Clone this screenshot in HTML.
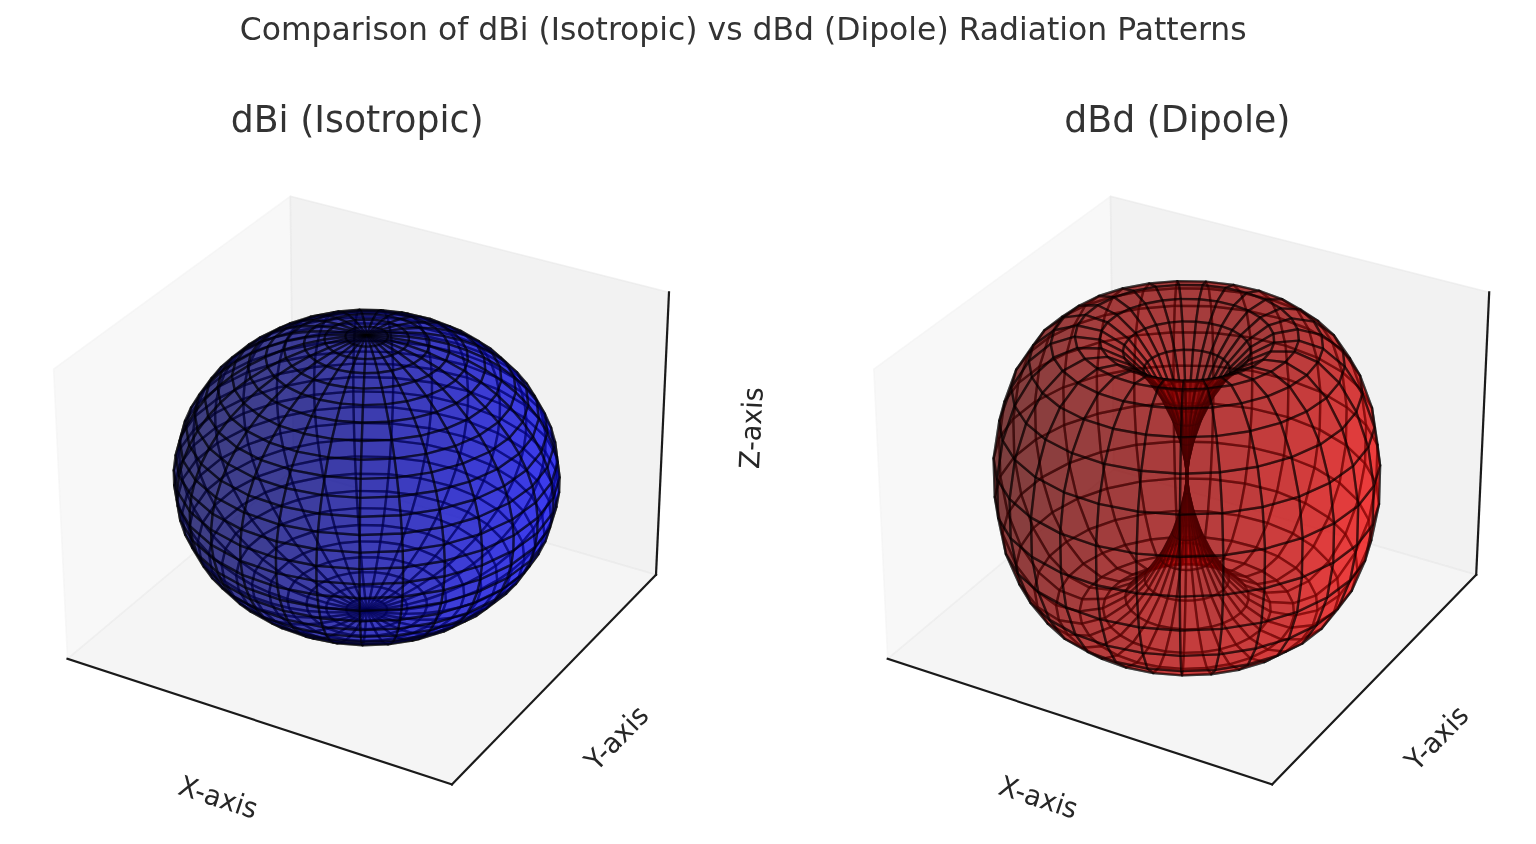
<!DOCTYPE html>
<html lang="en"><head><meta charset="utf-8"><title>Comparison of dBi (Isotropic) vs dBd (Dipole) Radiation Patterns</title>
<style>
html,body{margin:0;padding:0;background:#fff;overflow:hidden}
svg{display:block}
text{font-family:"DejaVu Sans","Liberation Sans",sans-serif;fill:#333333}
</style></head><body>
<svg width="1536" height="844" viewBox="0 0 1536 844">
<rect width="1536" height="844" fill="#fff"/>
<g fill-opacity=".5" stroke-opacity=".5" stroke-width="1.5" stroke-linejoin="round">
<polygon points="67.5,658.9 293.5,469.5 290.3,196.3 53.6,369.1" fill="#f2f2f2" stroke="#f2f2f2"/>
<polygon points="293.5,469.5 656.0,574.8 669.0,292.3 290.3,196.3" fill="#e6e6e6" stroke="#e6e6e6"/>
<polygon points="67.5,658.9 451.9,784.4 656.0,574.8 293.5,469.5" fill="#ececec" stroke="#ececec"/>
</g>
<g stroke="#1a1a1a" stroke-width="2.2" stroke-linecap="square" fill="none">
<path d="M67.5 658.9 L451.9 784.4"/>
<path d="M451.9 784.4 L656.0 574.8"/>
<path d="M656.0 574.8 L669.0 292.3"/>
</g>
<g fill-opacity=".5" stroke="#000" stroke-opacity=".5" stroke-width="2.4" stroke-linejoin="round">
<path fill="#0000c9" d="M391.2 440.1l-36.9-.7 .6 17 35.1 .7z"/>
<path fill="#0000ca" d="M390 457.1l-35.1-.7 .8 17.3 32.9 .6z"/>
<path fill="#0000c7" d="M392.1 423.5l-38.2-.7 .4 16.6 36.9 .7z"/>
<path fill="#0000b8" d="M354.3 439.4l-36.4 3.2 2.4 16.9 34.6-3.1z"/>
<path fill="#0000bb" d="M354.9 456.4l-34.6 3.1 3 17.1 32.4-2.9z"/>
<path fill="#0000b6" d="M353.9 422.8l-37.8 3.3 1.8 16.5 36.4-3.2z"/>
<path fill="#0000cb" d="M388.6 474.3l-32.9-.6 .8 17.2 30.4 .6z"/>
<path fill="#0000d8" d="M427.1 444.6l-35.9-4.5-1.2 17 34.1 4.3z"/>
<path fill="#0000c4" d="M392.8 407.4l-39.3-.7 .4 16.1 38.2 .7z"/>
<path fill="#0000d9" d="M424.1 461.4l-34.1-4.3-1.4 17.2 31.9 4.1z"/>
<path fill="#0000bd" d="M355.7 473.7l-32.4 2.9 3.4 17.1 29.8-2.8z"/>
<path fill="#0000d6" d="M429.4 428.2l-37.3-4.7-.9 16.6 35.9 4.5z"/>
<path fill="#0000b3" d="M353.5 406.7l-38.7 3.4 1.3 16 37.8-3.3z"/>
<path fill="#0000d9" d="M420.5 478.4l-31.9-4.1-1.7 17.2 29.4 3.8z"/>
<path fill="#0000cc" d="M386.9 491.5l-30.4-.6 1 17.2 27.4 .5z"/>
<path fill="#0000d5" d="M431 412.2l-38.2-4.8-.7 16.1 37.3 4.7z"/>
<path fill="#0000c2" d="M393.1 392.1l-39.8-.7 .2 15.3 39.3 .7z"/>
<path fill="#0000bf" d="M356.5 490.9l-29.8 2.8 3.8 16.9 27-2.5z"/>
<path fill="#0000a8" d="M317.9 442.6l-34.3 7.1 4.1 16.6 32.6-6.8z"/>
<path fill="#0000ab" d="M320.3 459.5l-32.6 6.8 5 16.7 30.6-6.4z"/>
<path fill="#0000d8" d="M416.3 495.3l-29.4-3.8-2 17.1 26.6 3.5z"/>
<path fill="#0000b0" d="M353.3 391.4l-39.2 3.4 .7 15.3 38.7-3.4z"/>
<path fill="#0000a4" d="M316.1 426.1l-35.7 7.3 3.2 16.3 34.3-7.1z"/>
<path fill="#0000af" d="M323.3 476.6l-30.6 6.4 5.8 16.6 28.2-5.9z"/>
<path fill="#0000d2" d="M431.9 396.9l-38.8-4.8-.3 15.3 38.2 4.8z"/>
<path fill="#0000cc" d="M384.9 508.6l-27.4-.5 1.1 16.9 24.2 .5z"/>
<path fill="#0000e5" d="M455.9 469.4l-31.8-8-3.6 17 29.7 7.5z"/>
<path fill="#0000e5" d="M460.5 452.9l-33.4-8.3-3 16.8 31.8 8z"/>
<path fill="#0000a1" d="M314.8 410.1l-36.6 7.4 2.2 15.9 35.7-7.3z"/>
<path fill="#0000c1" d="M357.5 508.1l-27 2.5 4.3 16.6 23.8-2.2z"/>
<path fill="#0000be" d="M393.2 377.7l-39.9-.7 0 14.4 39.8 .7z"/>
<path fill="#0000e5" d="M450.2 485.9l-29.7-7.5-4.2 16.9 27.4 7z"/>
<path fill="#0000b2" d="M326.7 493.7l-28.2 5.9 6.6 16.4 25.4-5.4z"/>
<path fill="#0000e4" d="M464.1 436.7l-34.7-8.5-2.3 16.4 33.4 8.3z"/>
<path fill="#0000d7" d="M411.5 512.1l-26.6-3.5-2.1 16.9 23.4 3.1z"/>
<path fill="#0000ad" d="M353.3 377l-39.3 3.4 .1 14.4 39.2-3.4z"/>
<path fill="#0000e3" d="M443.7 502.3l-27.4-7-4.8 16.8 24.7 6.4z"/>
<path fill="#0000e3" d="M466.5 420.9l-35.5-8.7-1.6 16 34.7 8.5z"/>
<path fill="#00009e" d="M314.1 394.8l-37.1 7.5 1.2 15.2 36.6-7.4z"/>
<path fill="#0000cf" d="M432 382.5l-38.8-4.8-.1 14.4 38.8 4.8z"/>
<path fill="#0000b5" d="M330.5 510.6l-25.4 5.4 7.3 16 22.4-4.8z"/>
<path fill="#0000cc" d="M382.8 525.5l-24.2-.5 1.2 16.4 20.6 .4z"/>
<path fill="#0000c2" d="M358.6 525l-23.8 2.2 4.7 16.1 20.3-1.9z"/>
<path fill="#00009c" d="M287.7 466.3l-29.4 10.1 6.9 16.1 27.5-9.5z"/>
<path fill="#000098" d="M283.6 449.7l-30.9 10.6 5.6 16.1 29.4-10.1z"/>
<path fill="#0000bb" d="M393 364.3l-39.6-.7-.1 13.4 39.9 .7z"/>
<path fill="#0000e1" d="M436.2 518.5l-24.7-6.4-5.3 16.5 21.8 5.6z"/>
<path fill="#0000a1" d="M292.7 483l-27.5 9.5 8 16 25.3-8.9z"/>
<path fill="#0000d6" d="M406.2 528.6l-23.4-3.1-2.4 16.3 20.1 2.7z"/>
<path fill="#0000e1" d="M467.9 405.7l-36-8.8-.9 15.3 35.5 8.7z"/>
<path fill="#000094" d="M280.4 433.4l-32.1 10.9 4.4 16 30.9-10.6z"/>
<path fill="#0000a9" d="M353.4 363.6l-38.9 3.4-.5 13.4 39.3-3.4z"/>
<path fill="#00009a" d="M314 380.4l-37.2 7.4 .2 14.5 37.1-7.5z"/>
<path fill="#0000a5" d="M298.5 499.6l-25.3 8.9 9.1 15.6 22.8-8.1z"/>
<path fill="#0000b8" d="M334.8 527.2l-22.4 4.8 7.9 15.4 19.2-4.1z"/>
<path fill="#0000cc" d="M431.4 369l-38.4-4.7 .2 13.4 38.8 4.8z"/>
<path fill="#0000f0" d="M483.8 480.6l-27.9-11.2-5.7 16.5 26.2 10.6z"/>
<path fill="#0000ee" d="M476.4 496.5l-26.2-10.6-6.5 16.4 24 9.8z"/>
<path fill="#0000f0" d="M489.9 464.6l-29.4-11.7-4.6 16.5 27.9 11.2z"/>
<path fill="#000090" d="M278.2 417.5l-32.9 11.1 3 15.7 32.1-10.9z"/>
<path fill="#0000de" d="M428 534.2l-21.8-5.6-5.7 15.9 18.5 4.8z"/>
<path fill="#0000aa" d="M305.1 516l-22.8 8.1 10 15.1 20.1-7.2z"/>
<path fill="#0000de" d="M468.1 391.2l-36.1-8.7-.1 14.4 36 8.8z"/>
<path fill="#0000cc" d="M380.4 541.8l-20.6-.4 1.3 15.8 16.8 .3z"/>
<path fill="#0000ec" d="M467.7 512.1l-24-9.8-7.5 16.2 21.7 8.9z"/>
<path fill="#0000f0" d="M494.6 448.8l-30.5-12.1-3.6 16.2 29.4 11.7z"/>
<path fill="#0000c3" d="M359.8 541.4l-20.3 1.9 5 15.4 16.6-1.5z"/>
<path fill="#0000d3" d="M400.5 544.5l-20.1-2.7-2.5 15.7 16.4 2.2z"/>
<path fill="#0000b8" d="M392.4 352.1l-38.7-.7-.3 12.2 39.6 .7z"/>
<path fill="#000097" d="M314.5 367l-36.9 7.2-.8 13.6 37.2-7.4z"/>
<path fill="#0000e9" d="M457.9 527.4l-21.7-8.9-8.2 15.7 19.1 7.9z"/>
<path fill="#00008c" d="M277 402.3l-33.4 11.1 1.7 15.2 32.9-11.1z"/>
<path fill="#0000a6" d="M353.7 351.4l-38.2 3.3-1 12.3 38.9-3.4z"/>
<path fill="#0000ef" d="M497.9 433.2l-31.4-12.3-2.4 15.8 30.5 12.1z"/>
<path fill="#0000ae" d="M312.4 532l-20.1 7.2 10.9 14.4 17.1-6.2z"/>
<path fill="#0000bb" d="M339.5 543.3l-19.2 4.1 8.5 14.7 15.7-3.4z"/>
<path fill="#0000c8" d="M430.1 356.7l-37.7-4.6 .6 12.2 38.4 4.7z"/>
<path fill="#0000da" d="M419 549.3l-18.5-4.8-6.2 15.2 15.1 4z"/>
<path fill="#0000da" d="M467.2 377.6l-35.8-8.6 .6 13.5 36.1 8.7z"/>
<path fill="#0000e5" d="M447.1 542.1l-19.1-7.9-9 15.1 16.3 6.8z"/>
<path fill="#000094" d="M265.2 492.5l-23.1 12.5 9.9 15 21.2-11.5z"/>
<path fill="#00008e" d="M258.3 476.4l-24.7 13.2 8.5 15.4 23.1-12.5z"/>
<path fill="#0000ed" d="M499.7 418l-31.8-12.3-1.4 15.2 31.4 12.3z"/>
<path fill="#000099" d="M273.2 508.5l-21.2 11.5 11.2 14.5 19.1-10.4z"/>
<path fill="#000089" d="M276.8 387.8l-33.4 11.1 .2 14.5 33.4-11.1z"/>
<path fill="#0000cb" d="M377.9 557.5l-16.8-.3 1.3 14.9 12.9 .3z"/>
<path fill="#000089" d="M252.7 460.3l-26 13.7 6.9 15.6 24.7-13.2z"/>
<path fill="#0000c4" d="M361.1 557.2l-16.6 1.5 5.2 14.6 12.7-1.2z"/>
<path fill="#0000b2" d="M320.3 547.4l-17.1 6.2 11.7 13.6 13.9-5.1z"/>
<path fill="#0000d1" d="M394.3 559.7l-16.4-2.2-2.6 14.9 12.5 1.6z"/>
<path fill="#00009f" d="M282.3 524.1l-19.1 10.4 12.3 14 16.8-9.3z"/>
<path fill="#000094" d="M315.5 354.7l-36 7.1-1.9 12.4 36.9-7.2z"/>
<path fill="#0000b4" d="M391.6 341.2l-37.5-.6-.4 10.8 38.7 .7z"/>
<path fill="#000084" d="M248.3 444.3l-27 14.1 5.4 15.6 26-13.7z"/>
<path fill="#0000bd" d="M344.5 558.7l-15.7 3.4 9 13.8 11.9-2.6z"/>
<path fill="#0000e0" d="M435.3 556.1l-16.3-6.8-9.6 14.4 13.3 5.6z"/>
<path fill="#0000f5" d="M497.8 509.7l-21.4-13.2-8.7 15.6 19.7 12.3z"/>
<path fill="#0000a3" d="M354.1 340.6l-36.9 3.1-1.7 11 38.2-3.3z"/>
<path fill="#0000f2" d="M487.4 524.4l-19.7-12.3-9.8 15.3 17.7 11.2z"/>
<path fill="#0000f7" d="M506.7 494.6l-22.9-14-7.4 15.9 21.4 13.2z"/>
<path fill="#0000a5" d="M292.3 539.2l-16.8 9.3 13.5 13.1 14.2-8z"/>
<path fill="#0000d6" d="M409.4 563.7l-15.1-4-6.5 14.3 11.5 3.1z"/>
<path fill="#0000ea" d="M500 403.5l-31.9-12.3-.2 14.5 31.8 12.3z"/>
<path fill="#0000d6" d="M465.1 365l-35-8.3 1.3 12.3 35.8 8.6z"/>
<path fill="#0000c4" d="M428 345.6l-36.4-4.4 .8 10.9 37.7 4.6z"/>
<path fill="#0000ef" d="M475.6 538.6l-17.7-11.2-10.8 14.7 15.5 9.9z"/>
<path fill="#0000f8" d="M514.1 479.3l-24.2-14.7-6.1 16 22.9 14z"/>
<path fill="#000080" d="M245.3 428.6l-27.8 14.4 3.8 15.4 27-14.1z"/>
<path fill="#000086" d="M277.6 374.2l-33.1 11-1.1 13.7 33.4-11.1z"/>
<path fill="#0000b7" d="M328.8 562.1l-13.9 5.1 12.3 12.6 10.6-3.9z"/>
<path fill="#0000ea" d="M462.6 552l-15.5-9.9-11.8 14 13.2 8.5z"/>
<path fill="#0000f8" d="M519.8 463.9l-25.2-15.1-4.7 15.8 24.2 14.7z"/>
<path fill="#0000ab" d="M303.2 553.6l-14.2 8 14.3 12.1 11.6-6.5z"/>
<path fill="#0000db" d="M422.7 569.3l-13.3-5.6-10.1 13.4 10.1 4.3z"/>
<path fill="#0000c9" d="M375.3 572.4l-12.9-.3 1.4 14 8.7 .2z"/>
<path fill="#0000c4" d="M362.4 572.1l-12.7 1.2 5.6 13.6 8.5-.8z"/>
<path fill="#00007c" d="M243.6 413.4l-28.1 14.5 2 15.1 27.8-14.4z"/>
<path fill="#000092" d="M317.2 343.7l-34.9 6.8-2.8 11.3 36-7.1z"/>
<path fill="#0000ce" d="M387.8 574l-12.5-1.6-2.8 13.9 8.4 1.1z"/>
<path fill="#0000e6" d="M498.8 389.7l-31.6-12.1 .9 13.6 31.9 12.3z"/>
<path fill="#0000e4" d="M448.5 564.6l-13.2-8.5-12.6 13.2 10.7 6.9z"/>
<path fill="#0000bf" d="M349.7 573.3l-11.9 2.6 9.4 12.8 8.1-1.8z"/>
<path fill="#0000f8" d="M523.7 448.6l-25.8-15.4-3.3 15.6 25.2 15.1z"/>
<path fill="#0000b0" d="M390.5 331.8l-35.8-.6-.6 9.4 37.5 .6z"/>
<path fill="#0000d2" d="M399.3 577.1l-11.5-3.1-6.9 13.4 7.8 2.1z"/>
<path fill="#000083" d="M279.5 361.8l-32.5 10.6-2.5 12.8 33.1-11z"/>
<path fill="#0000b1" d="M314.9 567.2l-11.6 6.5 15.1 11.1 8.8-5z"/>
<path fill="#0000a0" d="M354.7 331.2l-35.3 2.9-2.2 9.6 36.9-3.1z"/>
<path fill="#0000d2" d="M461.9 353.6l-33.9-8 2.1 11.1 35 8.3z"/>
<path fill="#00008f" d="M252 520l-16.2 13.7 12.8 13.2 14.6-12.4z"/>
<path fill="#000096" d="M263.2 534.5l-14.6 12.4 14.2 12.5 12.7-10.9z"/>
<path fill="#000088" d="M242.1 505l-17.6 14.7 11.3 14 16.2-13.7z"/>
<path fill="#0000bb" d="M337.8 575.9l-10.6 3.9 12.9 11.5 7.1-2.6z"/>
<path fill="#0000bf" d="M425.3 336l-34.8-4.2 1.1 9.4 36.4 4.4z"/>
<path fill="#00009d" d="M275.5 548.5l-12.7 10.9 15.4 11.6 10.8-9.4z"/>
<path fill="#000082" d="M233.6 489.6l-18.9 15.6 9.8 14.5 17.6-14.7z"/>
<path fill="#000078" d="M243.4 398.9l-28.3 14.4 .4 14.6 28.1-14.5z"/>
<path fill="#0000de" d="M433.4 576.2l-10.7-6.9-13.3 12.1 8.1 5.3z"/>
<path fill="#0000d5" d="M409.4 581.4l-10.1-4.3-10.6 12.4 6.8 2.9z"/>
<path fill="#0000f6" d="M525.9 433.5l-26.2-15.5-1.8 15.2 25.8 15.4z"/>
<path fill="#0000a4" d="M289 561.6l-10.8 9.4 16.4 10.4 8.7-7.7z"/>
<path fill="#00007c" d="M226.7 474l-20 16.3 8 14.9 18.9-15.6z"/>
<path fill="#0000e2" d="M496.1 376.8l-31-11.8 2.1 12.6 31.6 12.1z"/>
<path fill="#0000f2" d="M488.5 551.5l-12.9-12.9-13 13.4 11.2 11.5z"/>
<path fill="#0000f6" d="M501.7 538.7l-14.3-14.3-11.8 14.2 12.9 12.9z"/>
<path fill="#0000b6" d="M327.2 579.8l-8.8 5 15.7 9.9 6-3.4z"/>
<path fill="#0000ed" d="M473.8 563.5l-11.2-11.5-14.1 12.6 9.5 9.8z"/>
<path fill="#00008f" d="M319.4 334.1l-33.3 6.5-3.8 9.9 34.9-6.8z"/>
<path fill="#0000fa" d="M513.4 525.1l-15.6-15.4-10.4 14.7 14.3 14.3z"/>
<path fill="#0000c7" d="M372.5 586.3l-8.7-.2 1.5 12.8 4.4 .1z"/>
<path fill="#0000c4" d="M363.8 586.1l-8.5 .8 5.6 12.4 4.4-.4z"/>
<path fill="#0000ab" d="M303.3 573.7l-8.7 7.7 17.2 9.3 6.6-5.9z"/>
<path fill="#0000ca" d="M380.9 587.4l-8.4-1.1-2.8 12.7 4.2 .6z"/>
<path fill="#000077" d="M221.3 458.4l-20.8 16.9 6.2 15 20-16.3z"/>
<path fill="#0000e7" d="M458 574.4l-9.5-9.8-15.1 11.6 7.7 8.1z"/>
<path fill="#0000d7" d="M417.5 586.7l-8.1-5.3-13.9 11 5.5 3.6z"/>
<path fill="#000081" d="M282.3 350.5l-31.4 10.3-3.9 11.6 32.5-10.6z"/>
<path fill="#0000c1" d="M355.3 586.9l-8.1 1.8 9.7 11.5 4-.9z"/>
<path fill="#0000fc" d="M523.5 511l-16.8-16.4-8.9 15.1 15.6 15.4z"/>
<path fill="#000075" d="M244.5 385.2l-28 14.2-1.4 13.9 28.3-14.4z"/>
<path fill="#0000f3" d="M526.3 418.9l-26.3-15.4-.3 14.5 26.2 15.5z"/>
<path fill="#0000cc" d="M388.7 589.5l-7.8-2.1-7 12.2 3.9 1z"/>
<path fill="#0000ac" d="M389.1 323.9l-33.7-.6-.7 7.9 35.8 .6z"/>
<path fill="#0000cc" d="M457.6 343.6l-32.3-7.6 2.7 9.6 33.9 8z"/>
<path fill="#0000e0" d="M441.1 584.3l-7.7-8.1-15.9 10.5 5.8 6.2z"/>
<path fill="#0000be" d="M347.2 588.7l-7.1 2.6 13.2 10.3 3.6-1.4z"/>
<path fill="#00009c" d="M355.4 323.3l-33.2 2.8-2.8 8 35.3-2.9z"/>
<path fill="#0000ce" d="M395.5 592.4l-6.8-2.9-10.9 11.1 3.4 1.5z"/>
<path fill="#0000fd" d="M531.8 496.4l-17.7-17.1-7.4 15.3 16.8 16.4z"/>
<path fill="#0000b2" d="M318.4 584.8l-6.6 5.9 17.9 8 4.4-4z"/>
<path fill="#000072" d="M217.5 443l-21.3 17.2 4.3 15.1 20.8-16.9z"/>
<path fill="#0000ba" d="M421.8 327.8l-32.7-3.9 1.4 7.9 34.8 4.2z"/>
<path fill="#0000bc" d="M340.1 591.3l-6 3.4 16.2 8.6 3-1.7z"/>
<path fill="#0000dd" d="M491.8 365l-29.9-11.4 3.2 11.4 31 11.8z"/>
<path fill="#0000d9" d="M423.3 592.9l-5.8-6.2-16.5 9.3 3.9 4.2z"/>
<path fill="#0000d0" d="M401 596l-5.5-3.6-14.3 9.7 2.8 1.8z"/>
<path fill="#000096" d="M262.8 559.4l-8 12.2 16.6 9.8 6.8-10.4z"/>
<path fill="#0000fe" d="M538.2 481.5l-18.4-17.6-5.7 15.4 17.7 17.1z"/>
<path fill="#00009f" d="M278.2 571l-6.8 10.4 17.7 8.6 5.5-8.6z"/>
<path fill="#0000ef" d="M524.8 404.9l-26-15.2 1.2 13.8 26.3 15.4z"/>
<path fill="#00008e" d="M248.6 546.9l-9.2 13.9 15.4 10.8 8-12.2z"/>
<path fill="#000073" d="M247 372.4l-27.4 13.8-3.1 13.2 28-14.2z"/>
<path fill="#0000a7" d="M294.6 581.4l-5.5 8.6 18.6 7.2 4.1-6.5z"/>
<path fill="#0000b9" d="M334.1 594.7l-4.4 4 18.4 6.6 2.2-2z"/>
<path fill="#00006e" d="M215.5 427.9l-21.7 17.3 2.4 15 21.3-17.2z"/>
<path fill="#000087" d="M235.8 533.7l-10.3 15.2 13.9 11.9 9.2-13.9z"/>
<path fill="#00008d" d="M322.2 326.1l-31.3 6.1-4.8 8.4 33.3-6.5z"/>
<path fill="#0000d1" d="M404.9 600.2l-3.9-4.2-17 7.9 1.9 2.1z"/>
<path fill="#00007f" d="M286.1 340.6l-29.9 9.7-5.3 10.5 31.4-10.3z"/>
<path fill="#0000af" d="M311.8 590.7l-4.1 6.5 19.3 5.9 2.7-4.4z"/>
<path fill="#0000c5" d="M369.7 599l-4.4-.1 1.4 11.5z"/>
<path fill="#0000e8" d="M463.3 585.1l-5.3-10.7-16.9 9.9 4.3 8.7z"/>
<path fill="#0000c4" d="M365.3 598.9l-4.4 .4 5.8 11.1z"/>
<path fill="#00007f" d="M224.5 519.7l-11.3 16.4 12.3 12.8 10.3-15.2z"/>
<path fill="#0000e1" d="M445.4 593l-4.3-8.7-17.8 8.6 3.2 6.6z"/>
<path fill="#0000c6" d="M373.9 599.6l-4.2-.6-3 11.4z"/>
<path fill="#0000fd" d="M542.7 466.5l-19-17.9-3.9 15.3 18.4 17.6z"/>
<path fill="#0000c3" d="M360.9 599.3l-4 .9 9.8 10.2z"/>
<path fill="#0000ee" d="M480.2 576l-6.4-12.5-15.8 10.9 5.3 10.7z"/>
<path fill="#0000c7" d="M377.8 600.6l-3.9-1-7.2 10.8z"/>
<path fill="#0000d9" d="M426.5 599.5l-3.2-6.6-18.4 7.3 2.1 4.5z"/>
<path fill="#0000c2" d="M356.9 600.2l-3.6 1.4 13.4 8.8z"/>
<path fill="#0000b8" d="M329.7 598.7l-2.7 4.4 19.7 4.4 1.4-2.2z"/>
<path fill="#0000c7" d="M381.2 602.1l-3.4-1.5-11.1 9.8z"/>
<path fill="#0000c7" d="M452.2 335l-30.4-7.2 3.5 8.2 32.3 7.6z"/>
<path fill="#0000f3" d="M495.8 565.7l-7.3-14.2-14.7 12 6.4 12.5z"/>
<path fill="#0000c1" d="M353.3 601.6l-3 1.7 16.4 7.1z"/>
<path fill="#0000c8" d="M384 603.9l-2.8-1.8-14.5 8.3z"/>
<path fill="#0000d1" d="M407 604.7l-2.1-4.5-19 5.8 1.1 2.3z"/>
<path fill="#0000a8" d="M387.4 317.7l-31.2-.5-.8 6.1 33.7 .6z"/>
<path fill="#000078" d="M214.7 505.2l-12.1 17.5 10.6 13.4 11.3-16.4z"/>
<path fill="#0000c0" d="M350.3 603.3l-2.2 2 18.6 5.1z"/>
<path fill="#0000eb" d="M521.5 391.6l-25.4-14.8 2.7 12.9 26 15.2z"/>
<path fill="#0000d7" d="M486.1 354.3l-28.5-10.7 4.3 10 29.9 11.4z"/>
<path fill="#0000c8" d="M385.9 606l-1.9-2.1-17.3 6.5z"/>
<path fill="#00006a" d="M215.1 413.3l-21.7 17.2 .4 14.7 21.7-17.3z"/>
<path fill="#0000f7" d="M510 554.3l-8.3-15.6-13.2 12.8 7.3 14.2z"/>
<path fill="#000099" d="M356.2 317.2l-30.6 2.6-3.4 6.3 33.2-2.8z"/>
<path fill="#0000c0" d="M348.1 605.3l-1.4 2.2 20 2.9z"/>
<path fill="#0000c8" d="M387 608.3l-1.1-2.3-19.2 4.4z"/>
<path fill="#000071" d="M250.9 360.8l-26.4 13.3-4.9 12.1 27.4-13.8z"/>
<path fill="#0000b6" d="M327 603.1l-.9 4.6 20.2 2.2 .4-2.4z"/>
<path fill="#0000ad" d="M307.7 597.2l-1.3 6.9 19.7 3.6 .9-4.6z"/>
<path fill="#0000fb" d="M545.2 451.6l-19.3-18.1-2.2 15.1 19 17.9z"/>
<path fill="#0000bf" d="M346.7 607.5l-.4 2.4 20.4 .5z"/>
<path fill="#0000b5" d="M417.7 321.3l-30.3-3.6 1.7 6.2 32.7 3.9z"/>
<path fill="#0000c8" d="M387.1 610.7l-.1-2.4-20.3 2.1z"/>
<path fill="#0000a4" d="M289.1 590l-1.8 9 19.1 5.1 1.3-6.9z"/>
<path fill="#000072" d="M206.7 490.3l-12.8 18.3 8.7 14.1 12.1-17.5z"/>
<path fill="#0000d0" d="M407.2 609.3l-.2-4.6-20 3.6 .1 2.4z"/>
<path fill="#0000fb" d="M522.5 542l-9.1-16.9-11.7 13.6 8.3 15.6z"/>
<path fill="#0000bf" d="M346.3 609.9l.6 2.3 19.8-1.8z"/>
<path fill="#0000c8" d="M386.2 613l.9-2.3-20.4-.3z"/>
<path fill="#0000d8" d="M426.9 606.5l-.4-7-19.5 5.2 .2 4.6z"/>
<path fill="#00009b" d="M271.4 581.4l-2.3 11.1 18.2 6.5 1.8-9z"/>
<path fill="#0000bf" d="M346.9 612.2l1.4 2.2 18.4-4z"/>
<path fill="#0000c7" d="M384.5 615.1l1.7-2.1-19.5-2.6z"/>
<path fill="#00007e" d="M290.9 332.2l-28.1 9.1-6.6 9 29.9-9.7z"/>
<path fill="#0000b6" d="M326.1 607.7l1.1 4.7 19.7-.2-.6-2.3z"/>
<path fill="#0000e0" d="M446 602.1l-.6-9.1-18.9 6.5 .4 7z"/>
<path fill="#0000bf" d="M348.3 614.4l2.4 2 16-6z"/>
<path fill="#000092" d="M254.8 571.6l-2.9 13 17.2 7.9 2.3-11.1z"/>
<path fill="#000067" d="M216.5 399.4l-21.5 16.9-1.6 14.2 21.7-17.2z"/>
<path fill="#00008b" d="M325.6 319.8l-29 5.6-5.7 6.8 31.3-6.1z"/>
<path fill="#0000c6" d="M381.9 617l2.6-1.9-17.8-4.7z"/>
<path fill="#0000fd" d="M533.3 528.9l-9.8-17.9-10.1 14.1 9.1 16.9z"/>
<path fill="#0000cf" d="M405.6 613.9l1.6-4.6-20.1 1.4-.9 2.3z"/>
<path fill="#00006c" d="M200.5 475.3l-13.4 18.8 6.8 14.5 12.8-18.3z"/>
<path fill="#0000bf" d="M350.7 616.4l3.1 1.7 12.9-7.7z"/>
<path fill="#0000c5" d="M378.6 618.6l3.3-1.6-15.2-6.6z"/>
<path fill="#0000f8" d="M545.6 436.9l-19.3-18-.4 14.6 19.3 18.1z"/>
<path fill="#0000e6" d="M516.4 379.2l-24.6-14.2 4.3 11.8 25.4 14.8z"/>
<path fill="#0000c0" d="M353.8 618.1l3.7 1.3 9.2-9z"/>
<path fill="#0000e6" d="M464.2 596.2l-.9-11.1-17.9 7.9 .6 9.1z"/>
<path fill="#0000c5" d="M374.7 619.7l3.9-1.1-11.9-8.2z"/>
<path fill="#0000ac" d="M306.4 604.1l1.4 6.9 19.4 1.4-1.1-4.7z"/>
<path fill="#0000c1" d="M357.5 619.4l4.1 .8 5.1-9.8z"/>
<path fill="#0000c4" d="M370.4 620.4l4.3-.7-8-9.3z"/>
<path fill="#0000c2" d="M361.6 620.2l4.4 .4 .7-10.2z"/>
<path fill="#0000c3" d="M366 620.6l4.4-.2-3.7-10z"/>
<path fill="#000089" d="M239.4 560.8l-3.3 14.6 15.8 9.2 2.9-13z"/>
<path fill="#0000c1" d="M445.8 327.9l-28.1-6.6 4.1 6.5 30.4 7.2z"/>
<path fill="#0000b5" d="M327.2 612.4l2.8 4.4 18.3-2.4-1.4-2.2z"/>
<path fill="#0000d1" d="M479 345l-26.8-10 5.4 8.6 28.5 10.7z"/>
<path fill="#000070" d="M256.2 350.3l-25.2 12.7-6.5 11.1 26.4-13.3z"/>
<path fill="#0000ff" d="M542.2 515.1l-10.4-18.7-8.3 14.6 9.8 17.9z"/>
<path fill="#0000d7" d="M424.5 613.3l2.4-6.8-19.7 2.8-1.6 4.6z"/>
<path fill="#0000ce" d="M402.1 618.2l3.5-4.3-19.4-.9-1.7 2.1z"/>
<path fill="#0000ec" d="M481.3 589l-1.1-13-16.9 9.1 .9 11.1z"/>
<path fill="#000067" d="M196.2 460.2l-13.8 19.2 4.7 14.7 13.4-18.8z"/>
<path fill="#0000a2" d="M287.3 599l1.8 9 18.7 3-1.4-6.9z"/>
<path fill="#0000a3" d="M385.5 313.3l-28.3-.5-1 4.4 31.2 .5z"/>
<path fill="#000081" d="M225.5 548.9l-3.8 16.1 14.4 10.4 3.3-14.6z"/>
<path fill="#000065" d="M219.6 386.2l-21 16.5-3.6 13.6 21.5-16.9z"/>
<path fill="#000096" d="M357.2 312.8l-27.8 2.4-3.8 4.6 30.6-2.6z"/>
<path fill="#0000b6" d="M330 616.8l4.7 4 16-4.4-2.4-2z"/>
<path fill="#0000f5" d="M543.9 422.5l-19.1-17.6 1.5 14 19.3 18z"/>
<path fill="#0000cc" d="M396.9 622l5.2-3.8-17.6-3.1-2.6 1.9z"/>
<path fill="#0000f1" d="M497.2 580.4l-1.4-14.7-15.6 10.3 1.1 13z"/>
<path fill="#0000b0" d="M412.9 316.6l-27.4-3.3 1.9 4.4 30.3 3.6z"/>
<path fill="#0000ff" d="M549.1 500.9l-10.9-19.4-6.4 14.9 10.4 18.7z"/>
<path fill="#0000dd" d="M442.9 611l3.1-8.9-19.1 4.4-2.4 6.8z"/>
<path fill="#0000ac" d="M307.8 611l4.3 6.6 17.9-.8-2.8-4.4z"/>
<path fill="#000099" d="M269.1 592.5l2.2 11 17.8 4.5-1.8-9z"/>
<path fill="#00007d" d="M296.6 325.4l-26 8.4-7.8 7.5 28.1-9.1z"/>
<path fill="#000079" d="M213.2 536.1l-4.3 17.5 12.8 11.4 3.8-16.1z"/>
<path fill="#0000e0" d="M509.5 367.8l-23.4-13.5 5.7 10.7 24.6 14.2z"/>
<path fill="#0000b7" d="M334.7 620.8l6.1 3.3 13-6-3.1-1.7z"/>
<path fill="#000062" d="M193.8 445.2l-14 19.4 2.6 14.8 13.8-19.2z"/>
<path fill="#0000d4" d="M419.4 619.7l5.1-6.4-18.9 .6-3.5 4.3z"/>
<path fill="#0000c9" d="M390.3 625.1l6.6-3.1-15-5-3.3 1.6z"/>
<path fill="#000089" d="M329.4 315.2l-26.2 5-6.6 5.2 29-5.6z"/>
<path fill="#0000f6" d="M511.6 570.6l-1.6-16.3-14.2 11.4 1.4 14.7z"/>
<path fill="#0000b9" d="M340.8 624.1l7.4 2.6 9.3-7.3-3.7-1.3z"/>
<path fill="#000070" d="M262.8 341.3l-23.7 11.8-8.1 9.9 25.2-12.7z"/>
<path fill="#0000c6" d="M382.6 627.4l7.7-2.3-11.7-6.5-3.9 1.1z"/>
<path fill="#0000e3" d="M460.5 607.2l3.7-11-18.2 5.9-3.1 8.9z"/>
<path fill="#0000fe" d="M553.9 486.2l-11.2-19.7-4.5 15 10.9 19.4z"/>
<path fill="#0000ca" d="M470.5 337.2l-24.7-9.3 6.4 7.1 26.8 10z"/>
<path fill="#00008f" d="M251.9 584.6l2.5 13 16.9 5.9-2.2-11z"/>
<path fill="#000071" d="M202.6 522.7l-4.7 18.5 11 12.4 4.3-17.5z"/>
<path fill="#0000f0" d="M540.2 408.8l-18.7-17.2 3.3 13.3 19.1 17.6z"/>
<path fill="#000064" d="M224.5 374.1l-20.3 15.8-5.6 12.8 21-16.5z"/>
<path fill="#0000bb" d="M348.2 626.7l8.3 1.7 5.1-8.2-4.1-.8z"/>
<path fill="#0000a2" d="M289.1 608l5.6 8.7 17.4 .9-4.3-6.6z"/>
<path fill="#0000ba" d="M438.4 322.5l-25.5-5.9 4.8 4.7 28.1 6.6z"/>
<path fill="#0000ad" d="M312.1 617.6l6.9 5.9 15.7-2.7-4.7-4z"/>
<path fill="#0000c3" d="M374.1 628.8l8.5-1.4-7.9-7.7-4.3 .7z"/>
<path fill="#0000be" d="M356.5 628.4l8.8 .7 .7-8.5-4.4-.4z"/>
<path fill="#0000c1" d="M365.3 629.1l8.8-.3-3.7-8.4-4.4 .2z"/>
<path fill="#0000f9" d="M524.4 559.6l-1.9-17.6-12.5 12.3 1.6 16.3z"/>
<path fill="#00005f" d="M193.4 430.5l-14.1 19.3 .5 14.8 14-19.4z"/>
<path fill="#0000d1" d="M411.8 625.3l7.6-5.6-17.3-1.5-5.2 3.8z"/>
<path fill="#0000da" d="M436.2 619.5l6.7-8.5-18.4 2.3-5.1 6.4z"/>
<path fill="#0000e9" d="M477.1 601.9l4.2-12.9-17.1 7.2-3.7 11z"/>
<path fill="#0000d9" d="M500.9 357.7l-21.9-12.7 7.1 9.3 23.4 13.5z"/>
<path fill="#00009f" d="M383.3 310.7l-25-.4-1.1 2.5 28.3 .5z"/>
<path fill="#000086" d="M236.1 575.4l2.7 14.7 15.6 7.5-2.5-13z"/>
<path fill="#00006a" d="M193.9 508.6l-5 19.5 9 13.1 4.7-18.5z"/>
<path fill="#0000fd" d="M556.5 471.5l-11.3-19.9-2.5 14.9 11.2 19.7z"/>
<path fill="#000094" d="M358.3 310.3l-24.6 2.1-4.3 2.8 27.8-2.4z"/>
<path fill="#0000af" d="M319 623.5l9.1 5 12.7-4.4-6.1-3.3z"/>
<path fill="#00007c" d="M303.2 320.2l-23.5 7.6-9.1 6 26-8.4z"/>
<path fill="#000099" d="M271.3 603.5l6.7 10.7 16.7 2.5-5.6-8.7z"/>
<path fill="#0000aa" d="M407.6 313.6l-24.3-2.9 2.2 2.6 27.4 3.3z"/>
<path fill="#0000fb" d="M535.4 547.6l-2.1-18.7-10.8 13.1 1.9 17.6z"/>
<path fill="#0000eb" d="M534.4 395.7l-18-16.5 5.1 12.4 18.7 17.2z"/>
<path fill="#0000cc" d="M401.9 630l9.9-4.7-14.9-3.3-6.6 3.1z"/>
<path fill="#000063" d="M231 363l-19.3 15-7.5 11.9 20.3-15.8z"/>
<path fill="#00005c" d="M195 416.3l-13.9 19-1.8 14.5 14.1-19.3z"/>
<path fill="#000070" d="M270.6 333.8l-21.8 10.8-9.7 8.5 23.7-11.8z"/>
<path fill="#0000a3" d="M294.7 616.7l9 7.8 15.3-1-6.9-5.9z"/>
<path fill="#000064" d="M187.1 494.1l-5.3 20.1 7.1 13.9 5-19.5z"/>
<path fill="#00007d" d="M221.7 565l2.9 16.3 14.2 8.8-2.7-14.7z"/>
<path fill="#0000b2" d="M328.1 628.5l11 3.9 9.1-5.7-7.4-2.6z"/>
<path fill="#0000ed" d="M492.4 595l4.8-14.6-15.9 8.6-4.2 12.9z"/>
<path fill="#000088" d="M333.7 312.4l-23.2 4.4-7.3 3.4 26.2-5z"/>
<path fill="#0000c3" d="M460.7 330.9l-22.3-8.4 7.4 5.4 24.7 9.3z"/>
<path fill="#0000df" d="M452.3 617.6l8.2-10.4-17.6 3.8-6.7 8.5z"/>
<path fill="#0000fa" d="M556.9 456.7l-11.3-19.8-.4 14.7 11.3 19.9z"/>
<path fill="#0000c8" d="M390.4 633.4l11.5-3.4-11.6-4.9-7.7 2.3z"/>
<path fill="#0000d5" d="M426.2 626.9l10-7.4-16.8 .2-7.6 5.6z"/>
<path fill="#0000fc" d="M544.5 534.8l-2.3-19.7-8.9 13.8 2.1 18.7z"/>
<path fill="#0000b4" d="M430.1 318.9l-22.5-5.3 5.3 3 25.5 5.9z"/>
<path fill="#0000b5" d="M339.1 632.4l12.4 2.5 5-6.5-8.3-1.7z"/>
<path fill="#00008f" d="M254.4 597.6l7.9 12.4 15.7 4.2-6.7-10.7z"/>
<path fill="#0000c3" d="M377.8 635.4l12.6-2-7.8-6-8.5 1.4z"/>
<path fill="#0000d1" d="M490.7 348.8l-20.2-11.6 8.5 7.8 21.9 12.7z"/>
<path fill="#0000b9" d="M351.5 634.9l13.1 1 .7-6.8-8.8-.7z"/>
<path fill="#0000e4" d="M526.6 383.5l-17.1-15.7 6.9 11.4 18 16.5z"/>
<path fill="#0000be" d="M364.6 635.9l13.2-.5-3.7-6.6-8.8 .3z"/>
<path fill="#00005a" d="M198.6 402.7l-13.6 18.4-3.9 14.2 13.9-19z"/>
<path fill="#00005f" d="M182.4 479.4l-5.5 20.5 4.9 14.3 5.3-20.1z"/>
<path fill="#000075" d="M208.9 553.6l3.1 17.7 12.6 10-2.9-16.3z"/>
<path fill="#0000f1" d="M506.4 586.8l5.2-16.2-14.4 9.8-4.8 14.6z"/>
<path fill="#0000a6" d="M303.7 624.5l12 6.7 12.4-2.7-9.1-5z"/>
<path fill="#000063" d="M239.1 353.1l-18 14-9.4 10.9 19.3-15z"/>
<path fill="#0000f6" d="M555.1 442l-11.2-19.5 1.7 14.4 11.3 19.8z"/>
<path fill="#00009a" d="M278 614.2l11 9.6 14.7 .7-9-7.8z"/>
<path fill="#0000fd" d="M551.5 521.1l-2.4-20.2-6.9 14.2 2.3 19.7z"/>
<path fill="#0000e3" d="M467.5 614.1l9.6-12.2-16.6 5.3-8.2 10.4z"/>
<path fill="#0000cf" d="M413.2 633.1l13-6.2-14.4-1.6-9.9 4.7z"/>
<path fill="#00009b" d="M380.9 310.1l-21.4-.4-1.2 .6 25 .4z"/>
<path fill="#00007c" d="M310.5 316.8l-20.7 6.7-10.1 4.3 23.5-7.6z"/>
<path fill="#000070" d="M279.7 327.8l-19.8 9.8-11.1 7 21.8-10.8z"/>
<path fill="#000091" d="M359.5 309.7l-21 1.8-4.8 .9 24.6-2.1z"/>
<path fill="#0000a5" d="M401.7 312.5l-20.8-2.4 2.4 .6 24.3 2.9z"/>
<path fill="#000086" d="M238.8 590.1l8.8 14.2 14.7 5.7-7.9-12.4z"/>
<path fill="#0000d9" d="M440 626.8l12.3-9.2-16.1 1.9-10 7.4z"/>
<path fill="#00005a" d="M179.8 464.6l-5.6 20.6 2.7 14.7 5.5-20.5z"/>
<path fill="#00006d" d="M197.9 541.2l3.2 18.8 10.9 11.3-3.1-17.7z"/>
<path fill="#0000bc" d="M449.8 326.3l-19.7-7.4 8.3 3.6 22.3 8.4z"/>
<path fill="#000059" d="M204.2 389.9l-13.1 17.7-6.1 13.5 13.6-18.4z"/>
<path fill="#0000aa" d="M315.7 631.2l14.5 5.1 8.9-3.9-11-3.9z"/>
<path fill="#0000f4" d="M518.8 577.2l5.6-17.6-12.8 11-5.2 16.2z"/>
<path fill="#0000dd" d="M517 372.3l-16.1-14.6 8.6 10.1 17.1 15.7z"/>
<path fill="#0000f2" d="M551.1 427.7l-10.9-18.9 3.7 13.7 11.2 19.5z"/>
<path fill="#000087" d="M338.5 311.5l-19.9 3.8-8.1 1.5 23.2-4.4z"/>
<path fill="#0000ca" d="M479 341.4l-18.3-10.5 9.8 6.3 20.2 11.6z"/>
<path fill="#0000c9" d="M398 637.6l15.2-4.5-11.3-3.1-11.5 3.4z"/>
<path fill="#0000fc" d="M556.4 506.9l-2.5-20.7-4.8 14.7 2.4 20.2z"/>
<path fill="#000064" d="M248.8 344.6l-16.6 12.9-11.1 9.6 18-14z"/>
<path fill="#0000ad" d="M420.9 317l-19.2-4.5 5.9 1.1 22.5 5.3z"/>
<path fill="#0000e7" d="M481.6 608.9l10.8-13.9-15.3 6.9-9.6 12.2z"/>
<path fill="#000091" d="M262.3 610l12.8 11.4 13.9 2.4-11-9.6z"/>
<path fill="#0000af" d="M330.2 636.3l16.3 3.3 5-4.7-12.4-2.5z"/>
<path fill="#00009e" d="M289 623.8l14.8 8.2 11.9-.8-12-6.7z"/>
<path fill="#000057" d="M179.3 449.8l-5.5 20.5 .4 14.9 5.6-20.6z"/>
<path fill="#0000c2" d="M381.3 640.3l16.7-2.7-7.6-4.2-12.6 2z"/>
<path fill="#000066" d="M188.9 528.1l3.3 19.7 8.9 12.2-3.2-18.8z"/>
<path fill="#00007d" d="M224.6 581.3l9.7 15.8 13.3 7.2-8.8-14.2z"/>
<path fill="#0000b5" d="M346.5 639.6l17.4 1.4 .7-5.1-13.1-1z"/>
<path fill="#0000f6" d="M529.5 566.3l5.9-18.7-11 12-5.6 17.6z"/>
<path fill="#0000bb" d="M363.9 641l17.4-.7-3.5-4.9-13.2 .5z"/>
<path fill="#000059" d="M211.7 378l-12.4 16.7-8.2 12.9 13.1-17.7z"/>
<path fill="#000072" d="M289.8 323.5l-17.4 8.7-12.5 5.4 19.8-9.8z"/>
<path fill="#0000d2" d="M424.1 634.4l15.9-7.6-13.8 .1-13 6.2z"/>
<path fill="#0000fa" d="M559.1 492.3l-2.6-20.8-2.6 14.7 2.5 20.7z"/>
<path fill="#0000ec" d="M544.9 413.9l-10.5-18.2 5.8 13.1 10.9 18.9z"/>
<path fill="#00007d" d="M318.6 315.3l-17.7 5.7-11.1 2.5 20.7-6.7z"/>
<path fill="#0000dc" d="M453.1 624.9l14.4-10.8-15.2 3.5-12.3 9.2z"/>
<path fill="#0000d6" d="M505.5 362.3l-14.8-13.5 10.2 8.9 16.1 14.6z"/>
<path fill="#000097" d="M378.3 311.3l-17.5-.3-1.3-1.3 21.4 .4z"/>
<path fill="#00008f" d="M360.8 311l-17.2 1.5-5.1-1 21-1.8z"/>
<path fill="#0000b4" d="M437.8 323.3l-16.9-6.3 9.2 1.9 19.7 7.4z"/>
<path fill="#000054" d="M181.1 435.3l-5.5 20.1-1.8 14.9 5.5-20.5z"/>
<path fill="#0000c1" d="M465.9 335.5l-16.1-9.2 10.9 4.6 18.3 10.5z"/>
<path fill="#0000ea" d="M494.5 602.1l11.9-15.3-14 8.2-10.8 13.9z"/>
<path fill="#000066" d="M259.9 337.6l-15 11.7-12.7 8.2 16.6-12.9z"/>
<path fill="#000060" d="M181.8 514.2l3.4 20.4 7 13.2-3.3-19.7z"/>
<path fill="#00009f" d="M395.3 313.4l-17-2.1 2.6-1.2 20.8 2.4z"/>
<path fill="#0000a3" d="M303.8 632l17.9 6.4 8.5-2.1-14.5-5.1z"/>
<path fill="#000075" d="M212 571.3l10.5 17 11.8 8.8-9.7-15.8z"/>
<path fill="#0000f7" d="M538.4 554.3l6.1-19.5-9.1 12.8-5.9 18.7z"/>
<path fill="#000088" d="M247.6 604.3l14.7 12.9 12.8 4.2-12.8-11.4z"/>
<path fill="#0000f7" d="M559.6 477.4l-2.7-20.7-.4 14.8 2.6 20.8z"/>
<path fill="#00005a" d="M221.1 367.1l-11.6 15.7-10.2 11.9 12.4-16.7z"/>
<path fill="#0000ca" d="M405.4 640l18.7-5.6-10.9-1.3-15.2 4.5z"/>
<path fill="#000086" d="M343.6 312.5l-16.3 3.1-8.7-.3 19.9-3.8z"/>
<path fill="#0000e6" d="M536.6 400.7l-10-17.2 7.8 12.2 10.5 18.2z"/>
<path fill="#000095" d="M275.1 621.4l17.4 9.7 11.3 .9-14.8-8.2z"/>
<path fill="#0000a6" d="M411.1 317l-15.8-3.6 6.4-.9 19.2 4.5z"/>
<path fill="#0000ce" d="M492.3 353.5l-13.3-12.1 11.7 7.4 14.8 13.5z"/>
<path fill="#000052" d="M185 421.1l-5.3 19.6-4.1 14.7 5.5-20.1z"/>
<path fill="#0000a9" d="M321.7 638.4l20.1 4.1 4.7-2.9-16.3-3.3z"/>
<path fill="#000074" d="M300.9 321l-14.8 7.4-13.7 3.8 17.4-8.7z"/>
<path fill="#0000df" d="M465.2 621.2l16.4-12.3-14.1 5.2-14.4 10.8z"/>
<path fill="#00005b" d="M176.9 499.9l3.4 20.7 4.9 14-3.4-20.4z"/>
<path fill="#0000d3" d="M434.4 633.9l18.7-9-13.1 1.9-15.9 7.6z"/>
<path fill="#0000c1" d="M384.7 643.3l20.7-3.3-7.4-2.4-16.7 2.7z"/>
<path fill="#0000ec" d="M506 593.8l12.8-16.6-12.4 9.6-11.9 15.3z"/>
<path fill="#0000f4" d="M557.7 462.4l-2.6-20.4 1.8 14.7 2.7 20.7z"/>
<path fill="#0000f7" d="M545.3 541.4l6.2-20.3-7 13.7-6.1 19.5z"/>
<path fill="#00007e" d="M327.3 315.6l-14.4 4.7-12 .7 17.7-5.7z"/>
<path fill="#000068" d="M272.4 332.2l-13.2 10.2-14.3 6.9 15-11.7z"/>
<path fill="#0000b0" d="M341.8 642.5l21.4 1.6 .7-3.1-17.4-1.4z"/>
<path fill="#00006d" d="M201.1 560l11.2 18.2 10.2 10.1-10.5-17z"/>
<path fill="#0000b9" d="M363.2 644.1l21.5-.8-3.4-3-17.4 .7z"/>
<path fill="#0000df" d="M526.3 388.4l-9.3-16.1 9.6 11.2 10 17.2z"/>
<path fill="#0000b9" d="M451.5 331.2l-13.7-7.9 12 3 16.1 9.2z"/>
<path fill="#00005b" d="M232.2 357.5l-10.6 14.4-12.1 10.9 11.6-15.7z"/>
<path fill="#000080" d="M234.3 597.1l16.2 14.3 11.8 5.8-14.7-12.9z"/>
<path fill="#0000ac" d="M424.8 322.2l-13.7-5.2 9.8 0 16.9 6.3z"/>
<path fill="#000051" d="M191.1 407.6l-5.1 18.8-6.3 14.3 5.3-19.6z"/>
<path fill="#000056" d="M174.2 485.2l3.5 20.9 2.6 14.5-3.4-20.7z"/>
<path fill="#000093" d="M375.6 314.6l-13.4-.3-1.4-3.3 17.5 .3z"/>
<path fill="#00009b" d="M292.5 631.1l21.1 7.4 8.1-.1-17.9-6.4z"/>
<path fill="#00008d" d="M362.2 314.3l-13.2 1.1-5.4-2.9 17.2-1.5z"/>
<path fill="#0000c5" d="M477.5 346.2l-11.6-10.7 13.1 5.9 13.3 12.1z"/>
<path fill="#00009a" d="M388.6 316.1l-13-1.5 2.7-3.3 17 2.1z"/>
<path fill="#0000ef" d="M553.6 447.5l-2.5-19.8 4 14.3 2.6 20.4z"/>
<path fill="#00008d" d="M262.3 617.2l19.7 11 10.5 2.9-17.4-9.7z"/>
<path fill="#0000f6" d="M550 527.6l6.4-20.7-4.9 14.2-6.2 20.3z"/>
<path fill="#0000ca" d="M412.3 640.5l22.1-6.6-10.3 .5-18.7 5.6z"/>
<path fill="#0000ed" d="M515.8 584l13.7-17.7-10.7 10.9-12.8 16.6z"/>
<path fill="#0000e1" d="M476.3 615.8l18.2-13.7-12.9 6.8-16.4 12.3z"/>
<path fill="#000086" d="M349 315.4l-12.4 2.4-9.3-2.2 16.3-3.1z"/>
<path fill="#000066" d="M192.2 547.8l11.6 19 8.5 11.4-11.2-18.2z"/>
<path fill="#0000d7" d="M514 377l-8.5-14.7 11.5 10 9.3 16.1z"/>
<path fill="#000076" d="M312.9 320.3l-12.1 6-14.7 2.1 14.8-7.4z"/>
<path fill="#00005e" d="M244.9 349.3l-9.5 12.9-13.8 9.7 10.6-14.4z"/>
<path fill="#00009f" d="M400.6 318.9l-12-2.8 6.7-2.7 15.8 3.6z"/>
<path fill="#00006c" d="M286.1 328.4l-11.2 8.7-15.7 5.3 13.2-10.2z"/>
<path fill="#000052" d="M199.3 394.7l-4.8 17.9-8.5 13.8 5.1-18.8z"/>
<path fill="#0000d5" d="M444 631.4l21.2-10.2-12.1 3.7-18.7 9z"/>
<path fill="#000052" d="M173.8 470.3l3.4 20.8 .5 15-3.5-20.9z"/>
<path fill="#0000a3" d="M313.6 638.5l23.7 4.9 4.5-.9-20.1-4.1z"/>
<path fill="#0000b0" d="M436 328.6l-11.2-6.4 13 1.1 13.7 7.9z"/>
<path fill="#000078" d="M222.5 588.3l17.5 15.6 10.5 7.5-16.2-14.3z"/>
<path fill="#0000ea" d="M547.3 432.9l-2.4-19 6.2 13.8 2.5 19.8z"/>
<path fill="#00007f" d="M336.6 317.8l-11 3.6-12.7-1.1 14.4-4.7z"/>
<path fill="#0000c0" d="M388 644.4l24.3-3.9-6.9-.5-20.7 3.3z"/>
<path fill="#0000f4" d="M552.7 513.1l6.4-20.8-2.7 14.6-6.4 20.7z"/>
<path fill="#0000bc" d="M461.3 340.3l-9.8-9.1 14.4 4.3 11.6 10.7z"/>
<path fill="#0000a4" d="M411.1 322.9l-10.5-4 10.5-1.9 13.7 5.2z"/>
<path fill="#0000ac" d="M337.3 643.4l25.2 1.9 .7-1.2-21.4-1.6z"/>
<path fill="#0000cf" d="M499.9 366.8l-7.6-13.3 13.2 8.8 8.5 14.7z"/>
<path fill="#0000b5" d="M362.5 645.3l25.5-.9-3.3-1.1-21.5 .8z"/>
<path fill="#000060" d="M185.2 534.6l12.1 19.7 6.5 12.5-11.6-19z"/>
<path fill="#0000ee" d="M524 572.9l14.4-18.6-8.9 12-13.7 17.7z"/>
<path fill="#000061" d="M259.2 342.4l-8.3 11.4-15.5 8.4 9.5-12.9z"/>
<path fill="#000053" d="M209.5 382.8l-4.5 16.7-10.5 13.1 4.8-17.9z"/>
<path fill="#000050" d="M175.6 455.4l3.4 20.5-1.8 15.2-3.4-20.8z"/>
<path fill="#000094" d="M282 628.2l24.1 8.5 7.5 1.8-21.1-7.4z"/>
<path fill="#000085" d="M250.5 611.4l22 12.2 9.5 4.6-19.7-11z"/>
<path fill="#0000e2" d="M486.2 608.7l19.8-14.9-11.5 8.3-18.2 13.7z"/>
<path fill="#0000e4" d="M538.8 418.7l-2.2-18 8.3 13.2 2.4 19z"/>
<path fill="#000070" d="M300.8 326.3l-9.1 7.2-16.8 3.6 11.2-8.7z"/>
<path fill="#000090" d="M372.7 319.7l-9-.1-1.5-5.3 13.4 .3z"/>
<path fill="#000079" d="M325.6 321.4l-9.2 4.6-15.6 .3 12.1-6z"/>
<path fill="#00008b" d="M363.7 319.6l-9 .7-5.7-4.9 13.2-1.1z"/>
<path fill="#0000f1" d="M553.1 498.1l6.5-20.7-.5 14.9-6.4 20.8z"/>
<path fill="#000094" d="M381.5 320.8l-8.8-1.1 2.9-5.1 13 1.5z"/>
<path fill="#0000ca" d="M418.8 639l25.2-7.6-9.6 2.5-22.1 6.6z"/>
<path fill="#000070" d="M212.3 578.2l18.7 16.6 9 9.1-17.5-15.6z"/>
<path fill="#000086" d="M354.7 320.3l-8.3 1.7-9.8-4.2 12.4-2.4z"/>
<path fill="#0000c6" d="M484.1 357.9l-6.6-11.7 14.8 7.3 7.6 13.3z"/>
<path fill="#0000a7" d="M419.6 327.8l-8.5-4.9 13.7-.7 11.2 6.4z"/>
<path fill="#0000d5" d="M452.7 627.1l23.6-11.3-11.1 5.4-21.2 10.2z"/>
<path fill="#000055" d="M221.6 371.9l-4 15.3-12.6 12.3 4.5-16.7z"/>
<path fill="#0000b2" d="M444 336.1l-8-7.5 15.5 2.6 9.8 9.1z"/>
<path fill="#000098" d="M389.6 322.7l-8.1-1.9 7.1-4.7 12 2.8z"/>
<path fill="#000065" d="M274.9 337.1l-7 9.7-17 7 8.3-11.4z"/>
<path fill="#00004e" d="M179.7 440.7l3.4 19.9-4.1 15.3-3.4-20.5z"/>
<path fill="#00005a" d="M180.3 520.6l12.4 20.1 4.6 13.6-12.1-19.7z"/>
<path fill="#0000ed" d="M530.4 560.6l14.9-19.2-6.9 12.9-14.4 18.6z"/>
<path fill="#0000dd" d="M528.2 405.2l-1.9-16.8 10.3 12.3 2.2 18z"/>
<path fill="#000081" d="M346.4 322l-7.5 2.4-13.3-3 11-3.6z"/>
<path fill="#00009c" d="M306.1 636.7l27 5.6 4.2 1.1-23.7-4.9z"/>
<path fill="#0000ed" d="M551.3 482.8l6.4-20.4 1.9 15-6.5 20.7z"/>
<path fill="#00009b" d="M396.7 325.4l-7.1-2.7 11-3.8 10.5 4z"/>
<path fill="#0000be" d="M391 643.4l27.8-4.4-6.5 1.5-24.3 3.9z"/>
<path fill="#000074" d="M316.4 326l-6.9 5.5-17.8 2 9.1-7.2z"/>
<path fill="#0000e2" d="M494.8 599.9l21-15.9-9.8 9.8-19.8 14.9z"/>
<path fill="#000058" d="M235.4 362.2l-3.5 13.8-14.3 11.2 4-15.3z"/>
<path fill="#0000bd" d="M466.9 350.3l-5.6-10 16.2 5.9 6.6 11.7z"/>
<path fill="#00007d" d="M240 603.9l23.9 13.3 8.6 6.4-22-12.2z"/>
<path fill="#00004d" d="M186 426.4l3.3 19.1-6.2 15.1-3.4-19.9z"/>
<path fill="#0000d5" d="M515.7 392.4l-1.7-15.4 12.3 11.4 1.9 16.8z"/>
<path fill="#0000a7" d="M333.1 642.3l28.8 2.2 .6 .8-25.2-1.9z"/>
<path fill="#00007d" d="M338.9 324.4l-6.2 3.1-16.3-1.5 9.2-4.6z"/>
<path fill="#00008d" d="M272.5 623.6l26.7 9.4 6.9 3.7-24.1-8.5z"/>
<path fill="#00006a" d="M291.7 333.5l-5.7 7.9-18.1 5.4 7-9.7z"/>
<path fill="#000069" d="M203.8 566.8l19.7 17.4 7.5 10.6-18.7-16.6z"/>
<path fill="#0000b2" d="M361.9 644.5l29.1-1.1-3 1-25.5 .9z"/>
<path fill="#0000a9" d="M425.6 333.5l-6-5.7 16.4 .8 8 7.5z"/>
<path fill="#000056" d="M177.7 506.1l12.5 20.2 2.5 14.4-12.4-20.1z"/>
<path fill="#0000ec" d="M534.8 547.2l15.2-19.6-4.7 13.8-14.9 19.2z"/>
<path fill="#00009e" d="M402.4 328.7l-5.7-3.3 14.4-2.5 8.5 4.9z"/>
<path fill="#0000e9" d="M547.3 467.3l6.3-19.8 4.1 14.9-6.4 20.4z"/>
<path fill="#00005c" d="M250.9 353.8l-3 12.1-16 10.1 3.5-13.8z"/>
<path fill="#0000c9" d="M424.7 635.5l28-8.4-8.7 4.3-25.2 7.6z"/>
<path fill="#0000d6" d="M460.5 621l25.7-12.3-9.9 7.1-23.6 11.3z"/>
<path fill="#00008c" d="M369.8 326.8l-4.6 0-1.5-7.2 9 .1z"/>
<path fill="#00008a" d="M365.2 326.8l-4.5 .3-6-6.8 9-.7z"/>
<path fill="#0000b3" d="M448.5 344.2l-4.5-8.1 17.3 4.2 5.6 10z"/>
<path fill="#00008f" d="M374.2 327.4l-4.4-.6 2.9-7.1 8.8 1.1z"/>
<path fill="#00004e" d="M194.5 412.6l3.2 18-8.4 14.9-3.3-19.1z"/>
<path fill="#0000cd" d="M501.3 380.7l-1.4-13.9 14.1 10.2 1.7 15.4z"/>
<path fill="#000087" d="M360.7 327.1l-4.3 .9-10-6 8.3-1.7z"/>
<path fill="#000079" d="M332.7 327.5l-4.6 3.7-18.6 .3 6.9-5.5z"/>
<path fill="#000092" d="M378.3 328.3l-4.1-.9 7.3-6.6 8.1 1.9z"/>
<path fill="#000070" d="M309.5 331.5l-4.2 6-19.3 3.9 5.7-7.9z"/>
<path fill="#000052" d="M177.2 491.1l12.6 20.2 .4 15-12.5-20.2z"/>
<path fill="#0000e2" d="M501.8 589.6l22.2-16.7-8.2 11.1-21 15.9z"/>
<path fill="#000084" d="M356.4 328l-3.7 1.2-13.8-4.8 7.5-2.4z"/>
<path fill="#0000e4" d="M541.2 451.9l6.1-19 6.3 14.6-6.3 19.8z"/>
<path fill="#00009f" d="M406.5 332.5l-4.1-3.8 17.2-.9 6 5.7z"/>
<path fill="#000061" d="M267.9 346.8l-2.5 10.3-17.5 8.8 3-12.1z"/>
<path fill="#000094" d="M381.9 329.7l-3.6-1.4 11.3-5.6 7.1 2.7z"/>
<path fill="#0000ea" d="M537.2 532.9l15.5-19.8-2.7 14.5-15.2 19.6z"/>
<path fill="#000063" d="M197.3 554.3l20.4 18 5.8 11.9-19.7-17.4z"/>
<path fill="#000096" d="M299.2 633l30.1 6.2 3.8 3.1-27-5.6z"/>
<path fill="#0000c4" d="M485.3 370l-1.2-12.1 15.8 8.9 1.4 13.9z"/>
<path fill="#00004f" d="M205 399.5l3.2 16.8-10.5 14.3-3.2-18z"/>
<path fill="#000076" d="M231 594.8l25.5 14.2 7.4 8.2-23.9-13.3z"/>
<path fill="#0000a9" d="M429 339.6l-3.4-6.1 18.4 2.6 4.5 8.1z"/>
<path fill="#000081" d="M352.7 329.2l-3.1 1.6-16.9-3.3 6.2-3.1z"/>
<path fill="#0000bc" d="M393.7 640.5l31-5-5.9 3.5-27.8 4.4z"/>
<path fill="#000095" d="M384.7 331.4l-2.8-1.7 14.8-4.3 5.7 3.3z"/>
<path fill="#000086" d="M263.9 617.2l29.1 10.2 6.2 5.6-26.7-9.4z"/>
<path fill="#000076" d="M328.1 331.2l-2.8 4-20 2.3 4.2-6z"/>
<path fill="#000066" d="M286 341.4l-1.9 8.3-18.7 7.4 2.5-10.3z"/>
<path fill="#0000de" d="M532.9 436.7l5.9-18 8.5 14.2-6.1 19z"/>
<path fill="#0000bb" d="M467.8 360.6l-.9-10.3 17.2 7.6 1.2 12.1z"/>
<path fill="#00004f" d="M179 475.9l12.5 19.8-1.7 15.6-12.6-20.2z"/>
<path fill="#000051" d="M217.6 387.2l3 15.4-12.4 13.7-3.2-16.8z"/>
<path fill="#0000a2" d="M329.3 639.2l32.1 2.5 .5 2.8-28.8-2.2z"/>
<path fill="#00007f" d="M349.6 330.8l-2.3 1.8-19.2-1.4 4.6-3.7z"/>
<path fill="#0000af" d="M361.4 641.7l32.3-1.2-2.7 2.9-29.1 1.1z"/>
<path fill="#0000d5" d="M467.2 613.1l27.6-13.2-8.6 8.8-25.7 12.3z"/>
<path fill="#0000a0" d="M408.7 336.7l-2.2-4.2 19.1 1 3.4 6.1z"/>
<path fill="#000096" d="M386.7 333.3l-2-1.9 17.7-2.7 4.1 3.8z"/>
<path fill="#0000e7" d="M537.6 517.8l15.5-19.7-.4 15-15.5 19.8z"/>
<path fill="#0000c8" d="M430 630.1l30.5-9.1-7.8 6.1-28 8.4z"/>
<path fill="#0000e1" d="M507.3 577.9l23.1-17.3-6.4 12.3-22.2 16.7z"/>
<path fill="#00006d" d="M305.3 337.5l-1.5 6.3-19.7 5.9 1.9-8.3z"/>
<path fill="#0000b2" d="M449.1 352.5l-.6-8.3 18.4 6.1 .9 10.3z"/>
<path fill="#00005e" d="M192.7 540.7l21 18.4 4 13.2-20.4-18z"/>
<path fill="#0000d7" d="M522.6 421.9l5.6-16.7 10.6 13.5-5.9 18z"/>
<path fill="#000055" d="M231.9 376l2.8 13.8-14.1 12.8-3-15.4z"/>
<path fill="#00007d" d="M347.3 332.6l-1.5 2.1-20.5 .5 2.8-4z"/>
<path fill="#0000a6" d="M366.7 335.8l-1.5-9 4.6 0z"/>
<path fill="#0000a6" d="M366.7 335.8l-6-8.7 4.5-.3z"/>
<path fill="#0000a6" d="M366.7 335.8l3.1-9 4.4 .6z"/>
<path fill="#0000a6" d="M366.7 335.8l-10.3-7.8 4.3-.9z"/>
<path fill="#0000a6" d="M366.7 335.8l7.5-8.4 4.1 .9z"/>
<path fill="#00004d" d="M183.1 460.6l12.2 19.3-3.8 15.8-12.5-19.8z"/>
<path fill="#0000a6" d="M366.7 335.8l-14-6.6 3.7-1.2z"/>
<path fill="#000096" d="M387.8 335.4l-1.1-2.1 19.8-.8 2.2 4.2z"/>
<path fill="#0000a6" d="M366.7 335.8l11.6-7.5 3.6 1.4z"/>
<path fill="#000070" d="M223.5 584.2l26.9 14.9 6.1 9.9-25.5-14.2z"/>
<path fill="#000074" d="M325.3 335.2l-.9 4.3-20.6 4.3 1.5-6.3z"/>
<path fill="#0000a9" d="M429.4 346l-.4-6.4 19.5 4.6 .6 8.3z"/>
<path fill="#0000a6" d="M366.7 335.8l-17.1-5 3.1-1.6z"/>
<path fill="#0000a6" d="M366.7 335.8l15.2-6.1 2.8 1.7z"/>
<path fill="#000059" d="M247.9 365.9l2.6 12.1-15.8 11.8-2.8-13.8z"/>
<path fill="#0000d0" d="M510.4 407.8l5.3-15.4 12.5 12.8-5.6 16.7z"/>
<path fill="#0000a6" d="M366.7 335.8l-19.4-3.2 2.3-1.8z"/>
<path fill="#0000a6" d="M366.7 335.8l18-4.4 2 1.9z"/>
<path fill="#0000e4" d="M536 502.1l15.3-19.3 1.8 15.3-15.5 19.7z"/>
<path fill="#00009f" d="M408.9 340.9l-.2-4.2 20.3 2.9 .4 6.4z"/>
<path fill="#000091" d="M293 627.4l32.9 6.7 3.4 5.1-30.1-6.2z"/>
<path fill="#00007c" d="M345.8 334.7l-.4 2.1-21 2.7 .9-4.3z"/>
<path fill="#0000a6" d="M366.7 335.8l-20.9-1.1 1.5-2.1z"/>
<path fill="#0000a6" d="M366.7 335.8l20-2.5 1.1 2.1z"/>
<path fill="#00005e" d="M265.4 357.1l2.3 10.3-17.2 10.6-2.6-12.1z"/>
<path fill="#000096" d="M387.9 337.5l-.1-2.1 20.9 1.3 .2 4.2z"/>
<path fill="#00004d" d="M189.3 445.5l11.9 18.4-5.9 16-12.2-19.3z"/>
<path fill="#00007f" d="M256.5 609l31.2 10.9 5.3 7.5-29.1-10.2z"/>
<path fill="#0000a6" d="M366.7 335.8l-21.3 1 .4-2.1z"/>
<path fill="#0000c8" d="M496.4 394.4l4.9-13.7 14.4 11.7-5.3 15.4z"/>
<path fill="#0000ba" d="M396.2 635.5l33.8-5.4-5.3 5.4-31 5z"/>
<path fill="#0000e0" d="M511.2 564.8l23.6-17.6-4.4 13.4-23.1 17.3z"/>
<path fill="#0000a6" d="M366.7 335.8l21.1-.4 .1 2.1z"/>
<path fill="#000059" d="M190.2 526.3l21.2 18.6 2.3 14.2-21-18.4z"/>
<path fill="#000064" d="M284.1 349.7l1.9 8.4-18.3 9.3-2.3-10.3z"/>
<path fill="#0000d4" d="M472.8 603.4l29-13.8-7 10.3-27.6 13.2z"/>
<path fill="#0000a6" d="M366.7 335.8l-20.7 3.1-.6-2.1z"/>
<path fill="#0000a6" d="M366.7 335.8l21.2 1.7-.8 2.2z"/>
<path fill="#00006b" d="M303.8 343.8l1.6 6.3-19.4 8-1.9-8.4z"/>
<path fill="#00007b" d="M345.4 336.8l.6 2.1-20.6 4.8-1-4.2z"/>
<path fill="#0000c0" d="M480.9 382.1l4.4-12.1 16 10.7-4.9 13.7z"/>
<path fill="#000073" d="M324.4 339.5l1 4.2-20 6.4-1.6-6.3z"/>
<path fill="#0000a6" d="M366.7 335.8l-19.2 5.2-1.5-2.1z"/>
<path fill="#0000df" d="M532.3 486.1l15-18.8 4 15.5-15.3 19.3z"/>
<path fill="#0000a6" d="M366.7 335.8l20.4 3.9-1.9 1.9z"/>
<path fill="#00009d" d="M325.9 634.1l35 2.8 .5 4.8-32.1-2.5z"/>
<path fill="#000095" d="M387.1 339.7l.8-2.2 21 3.4-1.7 4.3z"/>
<path fill="#0000c6" d="M434.6 622.8l32.6-9.7-6.7 7.9-30.5 9.1z"/>
<path fill="#0000ab" d="M360.9 636.9l35.3-1.4-2.5 5-32.3 1.2z"/>
<path fill="#0000a6" d="M366.7 335.8l-16.8 7-2.4-1.8z"/>
<path fill="#00004d" d="M197.7 430.6l11.4 17.5-7.9 15.8-11.9-18.4z"/>
<path fill="#0000b8" d="M464 370.8l3.8-10.2 17.5 9.4-4.4 12.1z"/>
<path fill="#0000a6" d="M366.7 335.8l18.5 5.8-2.7 1.8z"/>
<path fill="#00006a" d="M217.7 572.3l28 15.4 4.7 11.4-26.9-14.9z"/>
<path fill="#00009d" d="M407.2 345.2l1.7-4.3 20.5 5.1-2.5 6.2z"/>
<path fill="#0000af" d="M445.9 360.8l3.2-8.3 18.7 8.1-3.8 10.2z"/>
<path fill="#0000a6" d="M366.7 335.8l-13.5 8.6-3.3-1.6z"/>
<path fill="#0000a6" d="M426.9 352.2l2.5-6.2 19.7 6.5-3.2 8.3z"/>
<path fill="#0000a6" d="M366.7 335.8l15.8 7.6-3.4 1.4z"/>
<path fill="#0000a6" d="M366.7 335.8l-9.7 9.7-3.8-1.1z"/>
<path fill="#0000a6" d="M366.7 335.8l12.4 9-4.1 1.1z"/>
<path fill="#00007b" d="M346 338.9l1.5 2.1-19 6.8-3.1-4.1z"/>
<path fill="#0000a6" d="M366.7 335.8l-5.3 10.5-4.4-.8z"/>
<path fill="#0000a6" d="M366.7 335.8l8.3 10.1-4.4 .6z"/>
<path fill="#0000a6" d="M366.7 335.8l-.7 10.8-4.6-.3z"/>
<path fill="#000055" d="M189.8 511.3l21.3 18.5 .3 15.1-21.2-18.6z"/>
<path fill="#0000a6" d="M366.7 335.8l3.9 10.7-4.6 .1z"/>
<path fill="#00004f" d="M208.2 416.3l10.7 16.2-9.8 15.6-11.4-17.5z"/>
<path fill="#0000da" d="M526.6 469.9l14.6-18 6.1 15.4-15 18.8z"/>
<path fill="#0000dd" d="M513.3 550.6l23.9-17.7-2.4 14.3-23.6 17.6z"/>
<path fill="#000093" d="M385.2 341.6l1.9-1.9 20.1 5.5-3.6 3.9z"/>
<path fill="#000073" d="M325.4 343.7l3.1 4.1-18.7 8.4-4.4-6.1z"/>
<path fill="#00008b" d="M287.7 619.9l35.2 7.2 3 7-32.9-6.7z"/>
<path fill="#000051" d="M220.6 402.6l9.9 14.9-11.6 15-10.7-16.2z"/>
<path fill="#00007b" d="M347.5 341l2.4 1.8-16.6 8.7-4.8-3.7z"/>
<path fill="#0000d3" d="M477.2 592.2l30.1-14.3-5.5 11.7-29 13.8z"/>
<path fill="#000079" d="M250.4 599.1l32.9 11.5 4.4 9.3-31.2-10.9z"/>
<path fill="#000091" d="M382.5 343.4l2.7-1.8 18.4 7.5-5.4 3.5z"/>
<path fill="#0000d5" d="M518.9 453.7l14-17 8.3 15.2-14.6 18z"/>
<path fill="#00006b" d="M305.4 350.1l4.4 6.1-18 9.9-5.8-8z"/>
<path fill="#00009b" d="M403.6 349.1l3.6-3.9 19.7 7-5.3 5.9z"/>
<path fill="#000054" d="M234.7 389.8l9.1 13.4-13.3 14.3-9.9-14.9z"/>
<path fill="#0000b7" d="M398.3 628.6l36.3-5.8-4.6 7.3-33.8 5.4z"/>
<path fill="#000064" d="M286 358.1l5.8 8-17.2 11.2-6.9-9.9z"/>
<path fill="#000053" d="M191.5 495.7l21.1 18.2-1.5 15.9-21.3-18.5z"/>
<path fill="#000065" d="M213.7 559.1l28.7 15.8 3.3 12.8-28-15.4z"/>
<path fill="#000059" d="M250.5 378l8.1 11.7-14.8 13.5-9.1-13.4z"/>
<path fill="#00005e" d="M267.7 367.4l6.9 9.9-16 12.4-8.1-11.7z"/>
<path fill="#00007c" d="M349.9 342.8l3.3 1.6-13.5 10.2-6.4-3.1z"/>
<path fill="#0000da" d="M513.6 535.5l24-17.7-.4 15.1-23.9 17.7z"/>
<path fill="#0000cf" d="M509.4 437.8l13.2-15.9 10.3 14.8-14 17z"/>
<path fill="#00008e" d="M379.1 344.8l3.4-1.4 15.7 9.2-6.9 2.9z"/>
<path fill="#0000a3" d="M421.6 358.1l5.3-5.9 19 8.6-6.9 7.8z"/>
<path fill="#0000c5" d="M438.3 613.7l34.5-10.3-5.6 9.7-32.6 9.7z"/>
<path fill="#000098" d="M322.9 627.1l37.6 2.9 .4 6.9-35-2.8z"/>
<path fill="#000073" d="M328.5 347.8l4.8 3.7-16.4 10.2-7.1-5.5z"/>
<path fill="#00007e" d="M353.2 344.4l3.8 1.1-9.6 11.5-7.7-2.4z"/>
<path fill="#0000a7" d="M360.5 630l37.8-1.4-2.1 6.9-35.3 1.4z"/>
<path fill="#0000c8" d="M498.2 422.3l12.2-14.5 12.2 14.1-13.2 15.9z"/>
<path fill="#0000aa" d="M439 368.6l6.9-7.8 18.1 10-8.5 9.6z"/>
<path fill="#00008c" d="M375 345.9l4.1-1.1 12.2 10.7-8 2.1z"/>
<path fill="#000097" d="M398.2 352.6l5.4-3.5 18 9-8 5.3z"/>
<path fill="#000051" d="M195.3 479.9l20.7 17.6-3.4 16.4-21.1-18.2z"/>
<path fill="#0000c1" d="M485.3 407.5l11.1-13.1 14 13.4-12.2 14.5z"/>
<path fill="#0000b2" d="M455.5 380.4l8.5-9.6 16.9 11.3-9.9 11.3z"/>
<path fill="#000080" d="M357 345.5l4.4 .8-5.4 12.2-8.6-1.5z"/>
<path fill="#0000ba" d="M471 393.4l9.9-11.3 15.5 12.3-11.1 13.1z"/>
<path fill="#000089" d="M370.6 346.5l4.4-.6 8.3 11.7-8.9 1.2z"/>
<path fill="#0000d1" d="M480.2 579.4l31-14.6-3.9 13.1-30.1 14.3z"/>
<path fill="#000083" d="M361.4 346.3l4.6 .3-.8 12.5-9.2-.6z"/>
<path fill="#000086" d="M366 346.6l4.6-.1 3.8 12.3-9.2 .3z"/>
<path fill="#0000d7" d="M512.2 519.5l23.8-17.4 1.6 15.7-24 17.7z"/>
<path fill="#00006c" d="M309.8 356.2l7.1 5.5-15.8 11.6-9.3-7.2z"/>
<path fill="#000074" d="M245.7 587.7l34.2 12 3.4 10.9-32.9-11.5z"/>
<path fill="#000060" d="M211.4 544.9l29.1 15.9 1.9 14.1-28.7-15.8z"/>
<path fill="#000075" d="M333.3 351.5l6.4 3.1-13.2 11.7-9.6-4.6z"/>
<path fill="#000086" d="M283.3 610.6l37.2 7.6 2.4 8.9-35.2-7.2z"/>
<path fill="#000050" d="M201.2 463.9l20 16.9-5.2 16.7-20.7-17.6z"/>
<path fill="#000093" d="M391.3 355.5l6.9-2.9 15.4 10.8-10.2 4.3z"/>
<path fill="#00009e" d="M413.6 363.4l8-5.3 17.4 10.5-10.5 7z"/>
<path fill="#0000b4" d="M400.1 619.7l38.2-6-3.7 9.1-36.3 5.8z"/>
<path fill="#000066" d="M291.8 366.1l9.3 7.2-15.1 13-11.4-9z"/>
<path fill="#0000c2" d="M441.3 602.8l35.9-10.6-4.4 11.2-34.5 10.3z"/>
<path fill="#0000d3" d="M509 503l23.3-16.9 3.7 16-23.8 17.4z"/>
<path fill="#000050" d="M209.1 448.1l19.1 15.9-7 16.8-20-16.9z"/>
<path fill="#000078" d="M339.7 354.6l7.7 2.4-9.5 12.9-11.4-3.6z"/>
<path fill="#000060" d="M274.6 377.3l11.4 9-14.1 14-13.3-10.6z"/>
<path fill="#00008f" d="M383.3 357.6l8-2.1 12.1 12.2-12 3.1z"/>
<path fill="#0000ce" d="M481.9 565.4l31.4-14.8-2.1 14.2-31 14.6z"/>
<path fill="#000094" d="M320.5 618.2l39.6 3.1 .4 8.7-37.6-2.9z"/>
<path fill="#0000a4" d="M428.5 375.6l10.5-7 16.5 11.8-12.7 8.6z"/>
<path fill="#00005d" d="M211.1 529.8l29.1 15.7 .3 15.3-29.1-15.9z"/>
<path fill="#000051" d="M218.9 432.5l18 14.9-8.7 16.6-19.1-15.9z"/>
<path fill="#00006f" d="M316.9 361.7l9.6 4.6-12.9 13.2-12.5-6.2z"/>
<path fill="#0000a4" d="M360.1 621.3l40-1.6-1.8 8.9-37.8 1.4z"/>
<path fill="#00005b" d="M258.6 389.7l13.3 10.6-13 15-15.1-12.1z"/>
<path fill="#00007c" d="M347.4 357l8.6 1.5-5.2 13.7-12.9-2.3z"/>
<path fill="#000054" d="M230.5 417.5l16.7 13.6-10.3 16.3-18-14.9z"/>
<path fill="#0000ce" d="M504.1 486l22.5-16.1 5.7 16.2-23.3 16.9z"/>
<path fill="#000057" d="M243.8 403.2l15.1 12.1-11.7 15.8-16.7-13.6z"/>
<path fill="#00006f" d="M242.4 574.9l35.1 12.2 2.4 12.6-34.2-12z"/>
<path fill="#00008a" d="M374.4 358.8l8.9-1.2 8.1 13.2-13.2 1.9z"/>
<path fill="#000098" d="M403.4 367.7l10.2-4.3 14.9 12.2-13.4 5.7z"/>
<path fill="#000080" d="M356 358.5l9.2 .6-.8 14.1-13.6-1z"/>
<path fill="#000085" d="M365.2 359.1l9.2-.3 3.8 13.9-13.8 .5z"/>
<path fill="#0000ab" d="M442.8 389l12.7-8.6 15.5 13-14.9 10.2z"/>
<path fill="#000081" d="M279.9 599.7l38.7 7.8 1.9 10.7-37.2-7.6z"/>
<path fill="#0000c9" d="M497.4 469l21.5-15.3 7.7 16.2-22.5 16.1z"/>
<path fill="#0000b1" d="M456.1 403.6l14.9-10.2 14.3 14.1-16.9 11.6z"/>
<path fill="#00005a" d="M212.6 513.9l28.9 15.5-1.3 16.1-29.1-15.7z"/>
<path fill="#000069" d="M301.1 373.3l12.5 6.2-12.2 14.4-15.4-7.6z"/>
<path fill="#0000cb" d="M482.1 550.1l31.5-14.6-.3 15.1-31.4 14.8z"/>
<path fill="#0000c0" d="M443.3 590.3l36.9-10.9-3 12.8-35.9 10.6z"/>
<path fill="#0000c4" d="M489.2 452l20.2-14.2 9.5 15.9-21.5 15.3z"/>
<path fill="#000073" d="M326.5 366.3l11.4 3.6-9.2 14.3-15.1-4.7z"/>
<path fill="#0000b1" d="M401.5 609.1l39.8-6.3-3 10.9-38.2 6z"/>
<path fill="#0000b8" d="M468.4 419.1l16.9-11.6 12.9 14.8-18.7 13z"/>
<path fill="#0000be" d="M479.5 435.3l18.7-13 11.2 15.5-20.2 14.2z"/>
<path fill="#000092" d="M391.4 370.8l12-3.1 11.7 13.6-15.8 4.2z"/>
<path fill="#00009d" d="M415.1 381.3l13.4-5.7 14.3 13.4-16.5 7.1z"/>
<path fill="#00006b" d="M240.5 560.8l35.7 12.3 1.3 14-35.1-12.2z"/>
<path fill="#000090" d="M318.6 607.5l41.3 3.2 .2 10.6-39.6-3.1z"/>
<path fill="#000058" d="M216 497.5l28.2 15.1-2.7 16.8-28.9-15.5z"/>
<path fill="#000064" d="M286 386.3l15.4 7.6-11.5 15.4-18-9z"/>
<path fill="#000078" d="M337.9 369.9l12.9 2.3-5.1 15.1-17-3.1z"/>
<path fill="#0000a0" d="M359.9 610.7l41.6-1.6-1.4 10.6-40 1.6z"/>
<path fill="#0000c8" d="M481 533.9l31.2-14.4 1.4 16-31.5 14.6z"/>
<path fill="#00008b" d="M378.2 372.7l13.2-1.9 7.9 14.7-17.4 2.4z"/>
<path fill="#00007e" d="M350.8 372.2l13.6 1-.7 15.4-18-1.3z"/>
<path fill="#00007c" d="M277.5 587.1l39.8 7.9 1.3 12.5-38.7-7.8z"/>
<path fill="#000084" d="M364.4 373.2l13.8-.5 3.7 15.2-18.2 .7z"/>
<path fill="#00006e" d="M313.6 379.5l15.1 4.7-8.8 15.6-18.5-5.9z"/>
<path fill="#000057" d="M221.2 480.8l27.3 14.5-4.3 17.3-28.2-15.1z"/>
<path fill="#0000a2" d="M426.3 396.1l16.5-7.1 13.3 14.6-19.3 8.4z"/>
<path fill="#000060" d="M271.9 400.3l18 9-10.6 16.4-20.4-10.4z"/>
<path fill="#0000bd" d="M444.5 576.3l37.4-10.9-1.7 14-36.9 10.9z"/>
<path fill="#000095" d="M399.3 385.5l15.8-4.2 11.2 14.8-19.5 5.2z"/>
<path fill="#0000ae" d="M402.4 596.7l40.9-6.4-2 12.5-39.8 6.3z"/>
<path fill="#0000c4" d="M478.5 517l30.5-14 3.2 16.5-31.2 14.4z"/>
<path fill="#000057" d="M228.2 464l26 13.7-5.7 17.6-27.3-14.5z"/>
<path fill="#00005c" d="M258.9 415.3l20.4 10.4-9.6 16.9-22.5-11.5z"/>
<path fill="#000067" d="M240.2 545.5l35.7 12.3 .3 15.3-35.7-12.3z"/>
<path fill="#000058" d="M236.9 447.4l24.4 12.7-7.1 17.6-26-13.7z"/>
<path fill="#000059" d="M247.2 431.1l22.5 11.5-8.4 17.5-24.4-12.7z"/>
<path fill="#0000a7" d="M436.8 412l19.3-8.4 12.3 15.5-21.9 9.6z"/>
<path fill="#000074" d="M328.7 384.2l17 3.1-4.9 16.3-20.9-3.8z"/>
<path fill="#00008c" d="M317.3 595l42.4 3.3 .2 12.4-41.3-3.2z"/>
<path fill="#0000c0" d="M474.6 499.5l29.5-13.5 4.9 17-30.5 14z"/>
<path fill="#00006a" d="M301.4 393.9l18.5 5.9-8.2 16.5-21.8-7z"/>
<path fill="#00008d" d="M381.9 387.9l17.4-2.4 7.5 15.8-21.4 3.1z"/>
<path fill="#00009d" d="M359.7 598.3l42.7-1.6-.9 12.4-41.6 1.6z"/>
<path fill="#0000ad" d="M446.5 428.7l21.9-9.6 11.1 16.2-24.3 10.7z"/>
<path fill="#0000ba" d="M444.7 561l37.4-10.9-.2 15.3-37.4 10.9z"/>
<path fill="#000078" d="M276.2 573.1l40.3 8 .8 13.9-39.8-7.9z"/>
<path fill="#0000bb" d="M469.3 481.6l28.1-12.6 6.7 17-29.5 13.5z"/>
<path fill="#000064" d="M241.5 529.4l35.3 12.1-.9 16.3-35.7-12.3z"/>
<path fill="#00007c" d="M345.7 387.3l18 1.3-.7 16.5-22.2-1.5z"/>
<path fill="#000099" d="M406.8 401.3l19.5-5.2 10.5 15.9-22.9 6.1z"/>
<path fill="#0000b2" d="M455.2 446l24.3-10.7 9.7 16.7-26.4 11.7z"/>
<path fill="#000084" d="M363.7 388.6l18.2-.7 3.5 16.5-22.4 .7z"/>
<path fill="#0000b7" d="M462.8 463.7l26.4-11.7 8.2 17-28.1 12.6z"/>
<path fill="#0000ab" d="M403 582.8l41.5-6.5-1.2 14-40.9 6.4z"/>
<path fill="#000066" d="M289.9 409.3l21.8 7-7.6 17.4-24.8-8z"/>
<path fill="#000072" d="M319.9 399.8l20.9 3.8-4.5 17.2-24.6-4.5z"/>
<path fill="#000062" d="M244.2 512.6l34.6 11.7-2 17.2-35.3-12.1z"/>
<path fill="#0000b7" d="M443.9 544.6l37.1-10.7 1.1 16.2-37.4 10.9z"/>
<path fill="#00009c" d="M413.9 418.1l22.9-6.1 9.7 16.7-26 7.1z"/>
<path fill="#000088" d="M316.5 581.1l43.1 3.3 .1 13.9-42.4-3.3z"/>
<path fill="#00008e" d="M385.4 404.4l21.4-3.1 7.1 16.8-25.2 3.7z"/>
<path fill="#000075" d="M275.9 557.8l40.5 8 .1 15.3-40.3-8z"/>
<path fill="#000064" d="M279.3 425.7l24.8 8-6.9 17.9-27.5-9z"/>
<path fill="#000099" d="M359.6 584.4l43.4-1.6-.6 13.9-42.7 1.6z"/>
<path fill="#000061" d="M248.5 495.3l33.4 11.1-3.1 17.9-34.6-11.7z"/>
<path fill="#00007a" d="M340.8 403.6l22.2 1.5-.6 17.6-26.1-1.9z"/>
<path fill="#000084" d="M363 405.1l22.4-.7 3.3 17.4-26.3 .9z"/>
<path fill="#000062" d="M269.7 442.6l27.5 9-6.1 18.3-29.8-9.8z"/>
<path fill="#0000b3" d="M442.2 527.3l36.3-10.3 2.5 16.9-37.1 10.7z"/>
<path fill="#0000a8" d="M403.1 567.5l41.6-6.5-.2 15.3-41.5 6.5z"/>
<path fill="#000060" d="M254.2 477.7l31.8 10.5-4.1 18.2-33.4-11.1z"/>
<path fill="#000061" d="M261.3 460.1l29.8 9.8-5.1 18.3-31.8-10.5z"/>
<path fill="#0000a0" d="M420.5 435.8l26-7.1 8.7 17.3-28.8 7.9z"/>
<path fill="#00006f" d="M311.7 416.3l24.6 4.5-4.3 18.1-27.9-5.2z"/>
<path fill="#000072" d="M276.8 541.5l40.1 7.8-.5 16.5-40.5-8z"/>
<path fill="#0000b0" d="M439.5 509.4l35.1-9.9 3.9 17.5-36.3 10.3z"/>
<path fill="#000091" d="M388.7 421.8l25.2-3.7 6.6 17.7-28.7 4.1z"/>
<path fill="#0000a4" d="M426.4 453.9l28.8-7.9 7.6 17.7-31.2 8.7z"/>
<path fill="#000084" d="M316.4 565.8l43.1 3.3 .1 15.3-43.1-3.3z"/>
<path fill="#0000ac" d="M436 491l33.3-9.4 5.3 17.9-35.1 9.9z"/>
<path fill="#0000a8" d="M431.6 472.4l31.2-8.7 6.5 17.9-33.3 9.4z"/>
<path fill="#000096" d="M359.5 569.1l43.6-1.6-.1 15.3-43.4 1.6z"/>
<path fill="#00007a" d="M336.3 420.8l26.1 1.9-.6 18.3-29.8-2.1z"/>
<path fill="#0000a5" d="M402.7 551l41.2-6.4 .8 16.4-41.6 6.5z"/>
<path fill="#00006e" d="M304.1 433.7l27.9 5.2-3.8 18.5-31-5.8z"/>
<path fill="#000085" d="M362.4 422.7l26.3-.9 3.1 18.1-30 1.1z"/>
<path fill="#00006f" d="M278.8 524.3l39.2 7.6-1.1 17.4-40.1-7.8z"/>
<path fill="#000093" d="M391.8 439.9l28.7-4.1 5.9 18.1-31.9 4.7z"/>
<path fill="#00006d" d="M297.2 451.6l31 5.8-3.3 18.9-33.8-6.4z"/>
<path fill="#000081" d="M316.9 549.3l42.7 3.3-.1 16.5-43.1-3.3z"/>
<path fill="#00006e" d="M281.9 506.4l37.8 7.3-1.7 18.2-39.2-7.6z"/>
<path fill="#0000a2" d="M401.9 533.5l40.3-6.2 1.7 17.3-41.2 6.4z"/>
<path fill="#000093" d="M359.6 552.6l43.1-1.6 .4 16.5-43.6 1.6z"/>
<path fill="#000079" d="M332 438.9l29.8 2.1-.6 18.8-33-2.4z"/>
<path fill="#00006c" d="M291.1 469.9l33.8 6.4-2.9 18.8-36-6.9z"/>
<path fill="#00006d" d="M286 488.2l36 6.9-2.3 18.6-37.8-7.3z"/>
<path fill="#000096" d="M394.5 458.6l31.9-4.7 5.2 18.5-34.7 5.2z"/>
<path fill="#000086" d="M361.8 441l30-1.1 2.7 18.7-33.3 1.2z"/>
<path fill="#00009e" d="M400.7 515.3l38.8-5.9 2.7 17.9-40.3 6.2z"/>
<path fill="#000098" d="M396.9 477.6l34.7-5.2 4.4 18.6-37 5.5z"/>
<path fill="#00007f" d="M318 531.9l41.8 3.1-.2 17.6-42.7-3.3z"/>
<path fill="#00009b" d="M399 496.5l37-5.5 3.5 18.4-38.8 5.9z"/>
<path fill="#000079" d="M328.2 457.4l33 2.4-.5 19.1-35.8-2.6z"/>
<path fill="#000090" d="M359.8 535l42.1-1.5 .8 17.5-43.1 1.6z"/>
<path fill="#000087" d="M361.2 459.8l33.3-1.2 2.4 19-36.2 1.3z"/>
<path fill="#00007d" d="M319.7 513.7l40.3 3-.2 18.3-41.8-3.1z"/>
<path fill="#00007a" d="M324.9 476.3l35.8 2.6-.4 19-38.3-2.8z"/>
<path fill="#00008d" d="M360 516.7l40.7-1.4 1.2 18.2-42.1 1.5z"/>
<path fill="#00007b" d="M322 495.1l38.3 2.8-.3 18.8-40.3-3z"/>
<path fill="#000089" d="M360.7 478.9l36.2-1.3 2.1 18.9-38.7 1.4z"/>
<path fill="#00008b" d="M360.3 497.9l38.7-1.4 1.7 18.8-40.7 1.4z"/>
</g>
<g fill-opacity=".5" stroke-opacity=".5" stroke-width="1.5" stroke-linejoin="round">
<polygon points="887.7,658.9 1113.7,469.5 1110.5,196.3 873.8,369.1" fill="#f2f2f2" stroke="#f2f2f2"/>
<polygon points="1113.7,469.5 1476.2,574.8 1489.2,292.3 1110.5,196.3" fill="#e6e6e6" stroke="#e6e6e6"/>
<polygon points="887.7,658.9 1272.1,784.4 1476.2,574.8 1113.7,469.5" fill="#ececec" stroke="#ececec"/>
</g>
<g stroke="#1a1a1a" stroke-width="2.2" stroke-linecap="square" fill="none">
<path d="M887.7 658.9 L1272.1 784.4"/>
<path d="M1272.1 784.4 L1476.2 574.8"/>
<path d="M1476.2 574.8 L1489.2 292.3"/>
</g>
<g fill-opacity=".5" stroke="#000" stroke-opacity=".5" stroke-width="2.4" stroke-linejoin="round">
<path fill="#cc0000" d="M1210.5 479l-35.5-.6 1.2 32.5 31.8 .6z"/>
<path fill="#c10000" d="M1175 478.4l-35 3.2 4.9 32.2 31.3-2.9z"/>
<path fill="#cb0000" d="M1212.3 442.2l-38.2-.7 .9 36.9 35.5 .6z"/>
<path fill="#d70000" d="M1245 483.5l-34.5-4.5-2.5 32.5 31 4.1z"/>
<path fill="#cb0000" d="M1208 511.5l-31.8-.6 1.5 26.1 27.4 .5z"/>
<path fill="#bd0000" d="M1174.1 441.5l-37.7 3.3 3.6 36.8 35-3.2z"/>
<path fill="#c40000" d="M1176.2 510.9l-31.3 2.9 5.8 25.7 27-2.5z"/>
<path fill="#d90000" d="M1249.4 446.9l-37.1-4.7-1.8 36.8 34.5 4.5z"/>
<path fill="#d10000" d="M1239 515.6l-31-4.1-2.9 26 26.7 3.5z"/>
<path fill="#b60000" d="M1140 481.6l-33 6.9 8.3 31.6 29.6-6.3z"/>
<path fill="#bd0000" d="M1144.9 513.8l-29.6 6.3 9.9 24.9 25.5-5.5z"/>
<path fill="#c70000" d="M1213.3 403.6l-39.7-.7 .5 38.6 38.2 .7z"/>
<path fill="#e00000" d="M1277.1 491.6l-32.1-8.1-6 32.1 28.7 7.4z"/>
<path fill="#ae0000" d="M1136.4 444.8l-35.6 7.3 6.2 36.4 33-6.9z"/>
<path fill="#b60000" d="M1173.6 402.9l-39.2 3.4 2 38.5 37.7-3.3z"/>
<path fill="#c70000" d="M1205.1 537.5l-27.4-.5 1.6 18 22.7 .4z"/>
<path fill="#d70000" d="M1267.7 523l-28.7-7.4-7.2 25.4 24.7 6.5z"/>
<path fill="#c40000" d="M1177.7 537l-27 2.5 6.3 17.6 22.3-2.1z"/>
<path fill="#e50000" d="M1284 455.5l-34.6-8.6-4.4 36.6 32.1 8.1z"/>
<path fill="#d60000" d="M1251.9 408.4l-38.6-4.8-1 38.6 37.1 4.7z"/>
<path fill="#c90000" d="M1231.8 541l-26.7-3.5-3.1 17.9 22 2.9z"/>
<path fill="#ac0000" d="M1107 488.5l-29.7 10.3 11.5 30.7 26.5-9.4z"/>
<path fill="#c10000" d="M1150.7 539.5l-25.5 5.5 10.8 16.6 21-4.5z"/>
<path fill="#b60000" d="M1115.3 520.1l-26.5 9.4 13.6 23.7 22.8-8.2z"/>
<path fill="#a40000" d="M1134.4 406.3l-37 7.5 3.4 38.3 35.6-7.3z"/>
<path fill="#cc0000" d="M1256.5 547.5l-24.7-6.5-7.8 17.3 20.3 5.4z"/>
<path fill="#a00000" d="M1100.8 452.1l-31.9 11 8.4 35.7 29.7-10.3z"/>
<path fill="#e70000" d="M1305.3 503.1l-28.2-11.5-9.4 31.4 25.3 10.4z"/>
<path fill="#e40000" d="M1287.9 417.2l-36-8.8-2.5 38.5 34.6 8.6z"/>
<path fill="#db0000" d="M1293 533.4l-25.3-10.4-11.2 24.5 21.7 9z"/>
<path fill="#be0000" d="M1213.4 366.1l-39.9-.6 .1 37.4 39.7 .7z"/>
<path fill="#ad0000" d="M1173.5 365.5l-39.4 3.3 .3 37.5 39.2-3.4z"/>
<path fill="#bf0000" d="M1125.2 545l-22.8 8.2 14.8 15.2 18.8-6.8z"/>
<path fill="#c20000" d="M1202 555.4l-22.7-.4 1.7 9 17.7 .4z"/>
<path fill="#ef0000" d="M1314.5 467.6l-30.5-12.1-6.9 36.1 28.2 11.5z"/>
<path fill="#c30000" d="M1179.3 555l-22.3 2.1 6.4 8.6 17.6-1.7z"/>
<path fill="#cf0000" d="M1252.3 370.9l-38.9-4.8-.1 37.5 38.6 4.8z"/>
<path fill="#c10000" d="M1224 558.3l-22-2.9-3.3 9 17.3 2.3z"/>
<path fill="#ce0000" d="M1278.2 556.5l-21.7-9-12.2 16.2 17.9 7.5z"/>
<path fill="#c40000" d="M1157 557.1l-21 4.5 11 7.7 16.4-3.6z"/>
<path fill="#940000" d="M1097.4 413.8l-33.3 11.2 4.8 38.1 31.9-11z"/>
<path fill="#b00000" d="M1088.8 529.5l-22.3 12.2 16.8 22.1 19.1-10.6z"/>
<path fill="#a20000" d="M1077.3 498.8l-25 13.5 14.2 29.4 22.3-12.2z"/>
<path fill="#c00000" d="M1244.3 563.7l-20.3-5.4-8 8.4 16 4.2z"/>
<path fill="#9a0000" d="M1134.1 368.8l-37.3 7.4 .6 37.6 37-7.5z"/>
<path fill="#bc0000" d="M1102.4 553.2l-19.1 10.6 18.2 13.4 15.7-8.8z"/>
<path fill="#de0000" d="M1288.5 379.6l-36.2-8.7-.4 37.5 36 8.8z"/>
<path fill="#f00000" d="M1319.7 429.6l-31.8-12.4-3.9 38.3 30.5 12.1z"/>
<path fill="#df0000" d="M1313.6 546.4l-20.6-13-14.8 23.1 17.7 11.4z"/>
<path fill="#c50000" d="M1136 561.6l-18.8 6.8 15.1 6.3 14.7-5.4z"/>
<path fill="#930000" d="M1068.9 463.1l-27 14.3 10.4 34.9 25-13.5z"/>
<path fill="#ec0000" d="M1328.5 517.4l-23.2-14.3-12.3 30.3 20.6 13z"/>
<path fill="#bf0000" d="M1262.2 571.2l-17.9-7.5-12.3 7.2 13.9 5.9z"/>
<path fill="#cf0000" d="M1295.9 567.9l-17.7-11.4-16 14.7 14.5 9.4z"/>
<path fill="#b40000" d="M1212.7 332.8l-38.8-.6-.4 33.3 39.9 .6z"/>
<path fill="#a30000" d="M1173.9 332.2l-38.3 3.2-1.5 33.4 39.4-3.3z"/>
<path fill="#bc0000" d="M1198.7 564.4l-17.7-.4 1.5 .3 13.2 .3z"/>
<path fill="#f60000" d="M1339.6 482.8l-25.1-15.2-9.2 35.5 23.2 14.3z"/>
<path fill="#c10000" d="M1181 564l-17.6 1.7 6.2-.2 12.9-1.2z"/>
<path fill="#b70000" d="M1216 566.7l-17.3-2.3-3 .2 12.7 1.7z"/>
<path fill="#c40000" d="M1250.5 337.4l-37.8-4.6 .7 33.3 38.9 4.8z"/>
<path fill="#890000" d="M1096.8 376.2l-33.5 11.1 .8 37.7 33.3-11.2z"/>
<path fill="#c70000" d="M1117.2 568.4l-15.7 8.8 18.5 4.4 12.3-6.9z"/>
<path fill="#c50000" d="M1163.4 565.7l-16.4 3.6 10.4-1.1 12.2-2.7z"/>
<path fill="#aa0000" d="M1066.5 541.7l-17 14.5 19.2 20.2 14.6-12.6z"/>
<path fill="#840000" d="M1064.1 425l-28.2 14.5 6 37.9 27-14.3z"/>
<path fill="#b30000" d="M1232 570.9l-16-4.2-7.6-.4 11.8 3.1z"/>
<path fill="#be0000" d="M1276.7 580.6l-14.5-9.4-16.3 5.6 11.4 7.4z"/>
<path fill="#ba0000" d="M1083.3 563.8l-14.6 12.6 20.9 11.2 11.9-10.4z"/>
<path fill="#990000" d="M1052.3 512.3l-19.1 15.9 16.3 28 17-14.5z"/>
<path fill="#920000" d="M1135.6 335.4l-36.2 7-2.6 33.8 37.3-7.4z"/>
<path fill="#ea0000" d="M1320.5 391.8l-32-12.2-.6 37.6 31.8 12.4z"/>
<path fill="#ca0000" d="M1147 569.3l-14.7 5.4 14.2-2.6 10.9-3.9z"/>
<path fill="#e10000" d="M1328.7 561.5l-15.1-15.1-17.7 21.5 12.9 13.1z"/>
<path fill="#b00000" d="M1245.9 576.8l-13.9-5.9-11.8-1.5 10.3 4.4z"/>
<path fill="#d20000" d="M1285.6 345.6l-35.1-8.2 1.8 33.5 36.2 8.7z"/>
<path fill="#d00000" d="M1308.8 581l-12.9-13.1-19.2 12.7 10.5 10.9z"/>
<path fill="#f80000" d="M1345.8 445.1l-26.1-15.5-5.2 38 25.1 15.2z"/>
<path fill="#c70000" d="M1101.5 577.2l-11.9 10.4 21.2 2.1 9.2-8.1z"/>
<path fill="#f00000" d="M1345.5 534.1l-17-16.7-14.9 29 15.1 15.1z"/>
<path fill="#870000" d="M1041.9 477.4l-20.7 16.9 12 33.9 19.1-15.9z"/>
<path fill="#cf0000" d="M1132.3 574.7l-12.3 6.9 17.5-4.4 9-5.1z"/>
<path fill="#be0000" d="M1287.2 591.5l-10.5-10.9-19.4 3.6 8.1 8.5z"/>
<path fill="#ae0000" d="M1257.3 584.2l-11.4-7.4-15.4-3 8.3 5.4z"/>
<path fill="#a80000" d="M1211.1 306.3l-36.4-.6-.8 26.5 38.8 .6z"/>
<path fill="#780000" d="M1063.3 387.3l-28.3 14.4 .9 37.8 28.2-14.5z"/>
<path fill="#810000" d="M1099.4 342.4l-32.6 10.6-3.5 34.3 33.5-11.1z"/>
<path fill="#b50000" d="M1195.7 564.6l-13.2-.3 1.4-7.6 9 .1z"/>
<path fill="#bd0000" d="M1182.5 564.3l-12.9 1.2 5.4-8 8.9-.8z"/>
<path fill="#9a0000" d="M1174.7 305.7l-36 3-3.1 26.7 38.3-3.2z"/>
<path fill="#ae0000" d="M1208.4 566.3l-12.7-1.7-2.8-7.8 8.8 1.2z"/>
<path fill="#fa0000" d="M1358 500.6l-18.4-17.8-11.1 34.6 17 16.7z"/>
<path fill="#b80000" d="M1068.7 576.4l-9.2 14 22.7 8.8 7.4-11.6z"/>
<path fill="#a60000" d="M1049.5 556.2l-10.9 16.2 20.9 18 9.2-14z"/>
<path fill="#b60000" d="M1246.5 310.5l-35.4-4.2 1.6 26.5 37.8 4.6z"/>
<path fill="#c50000" d="M1169.6 565.5l-12.2 2.7 9.3-8.9 8.3-1.8z"/>
<path fill="#d20000" d="M1120 581.6l-9.2 8.1 20-6.4 6.7-6.1z"/>
<path fill="#a70000" d="M1220.2 569.4l-11.8-3.1-6.7-8.3 8.1 2.1z"/>
<path fill="#dd0000" d="M1316.7 357.3l-31.1-11.7 2.9 34 32 12.2z"/>
<path fill="#c80000" d="M1089.6 587.6l-7.4 11.6 22.8-.4 5.8-9.1z"/>
<path fill="#770000" d="M1035.9 439.5l-21.6 17.4 6.9 37.4 20.7-16.9z"/>
<path fill="#cd0000" d="M1157.4 568.2l-10.9 3.9 12.7-10.1 7.5-2.7z"/>
<path fill="#f30000" d="M1346.7 407.2l-26.2-15.4-.8 37.8 26.1 15.5z"/>
<path fill="#ac0000" d="M1265.4 592.7l-8.1-8.5-18.5-5 6 6.3z"/>
<path fill="#d00000" d="M1316.1 595.3l-7.3-14.3-21.6 10.5 5.9 11.8z"/>
<path fill="#920000" d="M1033.2 528.2l-12.3 17.9 17.7 26.3 10.9-16.2z"/>
<path fill="#a20000" d="M1230.5 573.8l-10.3-4.4-10.4-9.3 7 3z"/>
<path fill="#8b0000" d="M1138.7 308.7l-33.9 6.5-5.4 27.2 36.2-7z"/>
<path fill="#e10000" d="M1337.4 578.1l-8.7-16.6-19.9 19.5 7.3 14.3z"/>
<path fill="#be0000" d="M1293.1 603.3l-5.9-11.8-21.8 1.2 4.5 9.3z"/>
<path fill="#d50000" d="M1146.5 572.1l-9 5.1 15.6-11.7 6.1-3.5z"/>
<path fill="#c20000" d="M1279.5 318.2l-33-7.7 4 26.9 35.1 8.2z"/>
<path fill="#9e0000" d="M1238.8 579.2l-8.3-5.4-13.7-10.7 5.7 3.7z"/>
<path fill="#d60000" d="M1110.8 589.7l-5.8 9.1 21.6-8.9 4.2-6.6z"/>
<path fill="#fe0000" d="M1365 463.3l-19.2-18.2-6.2 37.7 18.4 17.8z"/>
<path fill="#f10000" d="M1355.4 552.5l-9.9-18.4-16.8 27.4 8.7 16.6z"/>
<path fill="#ac0000" d="M1269.9 602l-4.5-9.3-20.6-7.2 3.3 6.8z"/>
<path fill="#7e0000" d="M1021.2 494.3l-13.4 19 13.1 32.8 12.3-17.9z"/>
<path fill="#db0000" d="M1137.5 577.2l-6.7 6.1 17.7-13.7 4.6-4.1z"/>
<path fill="#710000" d="M1066.8 353l-27.4 13.8-4.4 34.9 28.3-14.4z"/>
<path fill="#b70000" d="M1059.5 590.4l-3.4 14.8 23.4 6.2 2.7-12.2z"/>
<path fill="#c90000" d="M1082.2 599.2l-2.7 12.2 23.5-3.1 2-9.5z"/>
<path fill="#9b0000" d="M1244.8 585.5l-6-6.3-16.3-12.4 4 4.3z"/>
<path fill="#7d0000" d="M1104.8 315.2l-30.5 9.8-7.5 28 32.6-10.6z"/>
<path fill="#af0000" d="M1192.9 556.8l-9-.1 1.1-13.8 5.7 .1z"/>
<path fill="#6a0000" d="M1035 401.7l-21.7 17.1 1 38.1 21.6-17.4z"/>
<path fill="#b90000" d="M1183.9 556.7l-8.9 .8 4.5-14.1 5.5-.5z"/>
<path fill="#9d0000" d="M1208.8 288.7l-32.9-.5-1.2 17.5 36.4 .6z"/>
<path fill="#a40000" d="M1201.7 558l-8.8-1.2-2.2-13.8 5.4 .7z"/>
<path fill="#a30000" d="M1038.6 572.4l-4.1 17.1 21.6 15.7 3.4-14.8z"/>
<path fill="#c40000" d="M1175 557.5l-8.3 1.8 7.6-14.8 5.2-1.1z"/>
<path fill="#920000" d="M1175.9 288.2l-32.5 2.7-4.7 17.8 36-3z"/>
<path fill="#9b0000" d="M1209.8 560.1l-8.1-2.1-5.6-14.3 5 1.4z"/>
<path fill="#d80000" d="M1105 598.8l-2 9.5 22.2-11.4 1.4-7z"/>
<path fill="#be0000" d="M1294.1 615.6l-1-12.3-23.2-1.3 .7 9.6z"/>
<path fill="#e00000" d="M1130.8 583.3l-4.2 6.6 19-15.8 2.9-4.5z"/>
<path fill="#d00000" d="M1317.5 610.3l-1.4-15-23 8 1 12.3z"/>
<path fill="#e60000" d="M1342.2 372l-25.5-14.7 3.8 34.5 26.2 15.4z"/>
<path fill="#a70000" d="M1240.8 292.5l-32-3.8 2.3 17.6 35.4 4.2z"/>
<path fill="#cf0000" d="M1166.7 559.3l-7.5 2.7 10.5-15.8 4.6-1.7z"/>
<path fill="#fb0000" d="M1368.8 520l-10.8-19.4-12.5 33.5 9.9 18.4z"/>
<path fill="#cc0000" d="M1308.6 329l-29.1-10.8 6.1 27.4 31.1 11.7z"/>
<path fill="#940000" d="M1216.8 563.1l-7-3-8.7-15 4.4 1.8z"/>
<path fill="#9b0000" d="M1248.1 592.3l-3.3-6.8-18.3-14.4 2.2 4.6z"/>
<path fill="#ac0000" d="M1270.6 611.6l-.7-9.6-21.8-9.7 .4 7z"/>
<path fill="#d90000" d="M1159.2 562l-6.1 3.5 12.8-17.1 3.8-2.2z"/>
<path fill="#e10000" d="M1339.2 595.4l-1.8-17.3-21.3 17.2 1.4 15z"/>
<path fill="#f80000" d="M1366.1 425.1l-19.4-17.9-.9 37.9 19.2 18.2z"/>
<path fill="#8f0000" d="M1222.5 566.8l-5.7-3.7-11.3-16.2 3.5 2.3z"/>
<path fill="#870000" d="M1143.4 290.9l-30.6 5.8-8 18.5 33.9-6.5z"/>
<path fill="#8d0000" d="M1020.9 546.1l-4.8 19 18.4 24.4 4.1-17.1z"/>
<path fill="#6c0000" d="M1014.3 456.9l-14 19.4 7.5 37 13.4-19z"/>
<path fill="#e40000" d="M1126.6 589.9l-1.4 7 19.5-18 .9-4.8z"/>
<path fill="#e10000" d="M1153.1 565.5l-4.6 4.1 14.5-18.7 2.9-2.5z"/>
<path fill="#c90000" d="M1079.5 611.4l2.4 12.3 23.1-5.8-2-9.6z"/>
<path fill="#b00000" d="M1270.5 299.4l-29.7-6.9 5.7 18 33 7.7z"/>
<path fill="#8c0000" d="M1226.5 571.1l-4-4.3-13.5-17.6 2.5 2.6z"/>
<path fill="#9c0000" d="M1248.5 599.3l-.4-7-19.4-16.6 .3 4.8z"/>
<path fill="#d90000" d="M1103 608.3l2 9.6 21.7-14-1.5-7z"/>
<path fill="#b60000" d="M1056.1 605.2l2.8 15 23 3.5-2.4-12.3z"/>
<path fill="#e80000" d="M1148.5 569.6l-2.9 4.5 15.7-20.4 1.7-2.8z"/>
<path fill="#700000" d="M1074.3 325l-25.7 12.7-9.2 29.1 27.4-13.8z"/>
<path fill="#be0000" d="M1290.1 627.8l4-12.2-23.5-4-3.2 9.5z"/>
<path fill="#ae0000" d="M1267.4 621.1l3.2-9.5-22.1-12.3-2.4 7z"/>
<path fill="#ef0000" d="M1357.6 571.6l-2.2-19.1-18 25.6 1.8 17.3z"/>
<path fill="#8b0000" d="M1228.7 575.7l-2.2-4.6-15-19.3 1.4 2.9z"/>
<path fill="#e60000" d="M1125.2 596.9l1.5 7 19.1-20.3-1.1-4.7z"/>
<path fill="#640000" d="M1039.4 366.8l-21.1 16.3-5 35.7 21.7-17.1z"/>
<path fill="#ff0000" d="M1376.3 483.2l-11.3-19.9-7 37.3 10.8 19.4z"/>
<path fill="#a80000" d="M1190.7 543l-5.7-.1 .9-17.5 3.1 .1z"/>
<path fill="#b50000" d="M1185 542.9l-5.5 .5 3.4-17.7 3-.3z"/>
<path fill="#9c0000" d="M1196.1 543.7l-5.4-.7-1.7-17.5 2.9 .4z"/>
<path fill="#7c0000" d="M1112.8 296.7l-27.5 8.8-11 19.5 30.5-9.8z"/>
<path fill="#cf0000" d="M1312.8 625.2l4.7-14.9-23.4 5.3-4 12.2z"/>
<path fill="#9e0000" d="M1246.1 606.3l2.4-7-19.5-18.8-1.7 4.7z"/>
<path fill="#ed0000" d="M1145.6 574.1l-.9 4.8 16.1-22.3 .5-2.9z"/>
<path fill="#c20000" d="M1179.5 543.4l-5.2 1.1 5.8-18.2 2.8-.6z"/>
<path fill="#770000" d="M1007.8 513.3l-5.3 20.2 13.6 31.6 4.8-19z"/>
<path fill="#910000" d="M1201.1 545.1l-5-1.4-4.2-17.8 2.8 .7z"/>
<path fill="#a10000" d="M1034.5 589.5l3 17.4 21.4 13.3-2.8-15z"/>
<path fill="#cf0000" d="M1174.3 544.5l-4.6 1.7 7.9-19 2.5-.9z"/>
<path fill="#8c0000" d="M1229 580.5l-.3-4.8-15.8-21 .1 2.9z"/>
<path fill="#d30000" d="M1332.4 342.5l-23.8-13.5 8.1 28.3 25.5 14.7z"/>
<path fill="#880000" d="M1205.5 546.9l-4.4-1.8-6.4-18.5 2.3 1z"/>
<path fill="#940000" d="M1205.9 281.6l-28.6-.5-1.4 7.1 32.9 .5z"/>
<path fill="#d90000" d="M1105 617.9l5.8 9.2 20.2-16.5-4.3-6.7z"/>
<path fill="#db0000" d="M1169.7 546.2l-3.8 2.2 9.6-20 2.1-1.2z"/>
<path fill="#8d0000" d="M1177.3 281.1l-28.1 2.4-5.8 7.4 32.5-2.7z"/>
<path fill="#810000" d="M1209 549.2l-3.5-2.3-8.5-19.3 1.9 1.2z"/>
<path fill="#b80000" d="M1296.7 309l-26.2-9.6 9 18.8 29.1 10.8z"/>
<path fill="#e60000" d="M1126.7 603.9l4.3 6.7 17.8-22.4-3-4.6z"/>
<path fill="#c90000" d="M1081.9 623.7l7.4 11.9 21.5-8.5-5.8-9.2z"/>
<path fill="#5f0000" d="M1013.3 418.8l-14.1 19.2 1.1 38.3 14-19.4z"/>
<path fill="#f00000" d="M1144.7 578.9l1.1 4.7 15.6-24.1-.6-2.9z"/>
<path fill="#9a0000" d="M1233.6 284.9l-27.7-3.3 2.9 7.1 32 3.8z"/>
<path fill="#eb0000" d="M1361 389.1l-18.8-17.1 4.5 35.2 19.4 17.9z"/>
<path fill="#e60000" d="M1165.9 548.4l-2.9 2.5 11-21.2 1.5-1.3z"/>
<path fill="#b10000" d="M1260.3 630.1l7.1-9-21.3-14.8-5.3 6.5z"/>
<path fill="#900000" d="M1227.3 585.2l1.7-4.7-16-22.9-1.1 2.9z"/>
<path fill="#7d0000" d="M1211.5 551.8l-2.5-2.6-10.1-20.4 1.4 1.4z"/>
<path fill="#a30000" d="M1240.8 612.8l5.3-6.5-18.8-21.1-3.6 4.4z"/>
<path fill="#de0000" d="M1333.8 612.6l5.4-17.2-21.7 14.9-4.7 14.9z"/>
<path fill="#ee0000" d="M1163 550.9l-1.7 2.8 11.7-22.5 1-1.5z"/>
<path fill="#f90000" d="M1371.2 540.4l-2.4-20.4-13.4 32.5 2.2 19.1z"/>
<path fill="#bf0000" d="M1281.2 639.4l8.9-11.6-22.7-6.7-7.1 9z"/>
<path fill="#7c0000" d="M1212.9 554.7l-1.4-2.9-11.2-21.6 .7 1.6z"/>
<path fill="#860000" d="M1149.2 283.5l-26.5 5-9.9 8.2 30.6-5.8z"/>
<path fill="#f00000" d="M1145.8 583.6l3 4.6 14.5-25.9-1.9-2.8z"/>
<path fill="#b60000" d="M1058.9 620.2l8.8 14.4 21.6 1-7.4-11.9z"/>
<path fill="#f40000" d="M1161.3 553.7l-.5 2.9 11.9-23.8 .3-1.6z"/>
<path fill="#960000" d="M1223.7 589.6l3.6-4.4-15.4-24.7-2.2 2.7z"/>
<path fill="#e40000" d="M1131 610.6l7.1 6.1 15.5-24.5-4.8-4z"/>
<path fill="#8a0000" d="M1016.1 565.1l3.3 19.2 18.1 22.6-3-17.4z"/>
<path fill="#7e0000" d="M1213 557.6l-.1-2.9-11.9-22.9 .1 1.5z"/>
<path fill="#d80000" d="M1110.8 627.1l9.5 8.3 17.8-18.7-7.1-6.1z"/>
<path fill="#a00000" d="M1259.3 290.8l-25.7-5.9 7.2 7.6 29.7 6.9z"/>
<path fill="#a90000" d="M1233 618.6l7.8-5.8-17.1-23.2-5.4 3.9z"/>
<path fill="#fa0000" d="M1377.5 444.8l-11.4-19.7-1.1 38.2 11.3 19.9z"/>
<path fill="#f70000" d="M1160.8 556.6l.6 2.9 11.7-25.1-.4-1.6z"/>
<path fill="#ee0000" d="M1148.8 588.2l4.8 4 12.7-27.4-3-2.5z"/>
<path fill="#730000" d="M1085.3 305.5l-23.1 11.3-13.6 20.9 25.7-12.7z"/>
<path fill="#830000" d="M1211.9 560.5l1.1-2.9-11.9-24.3-.6 1.6z"/>
<path fill="#640000" d="M1000.3 476.3l-5.5 20.7 7.7 36.5 5.3-20.2z"/>
<path fill="#b40000" d="M1249.7 638l10.6-7.9-19.5-17.3-7.8 5.8z"/>
<path fill="#9e0000" d="M1218.3 593.5l5.4-3.9-14-26.4-3.4 2.4z"/>
<path fill="#640000" d="M1048.6 337.7l-19.7 15.1-10.6 30.3 21.1-16.3z"/>
<path fill="#a10000" d="M1189 525.5l-3.1-.1 .6-18.2 1.3 0z"/>
<path fill="#b00000" d="M1185.9 525.4l-3 .3 2.2-18.4 1.4-.1z"/>
<path fill="#cd0000" d="M1302 639.2l10.8-14-22.7 2.6-8.9 11.6z"/>
<path fill="#930000" d="M1191.9 525.9l-2.9-.4-1.2-18.3 1.3 .2z"/>
<path fill="#bf0000" d="M1182.9 525.7l-2.8 .6 3.8-18.7 1.2-.3z"/>
<path fill="#870000" d="M1194.7 526.6l-2.8-.7-2.8-18.5 1.2 .3z"/>
<path fill="#f80000" d="M1161.4 559.5l1.9 2.8 10.8-26.4-1-1.5z"/>
<path fill="#c90000" d="M1089.3 635.6l12 10.7 19-10.9-9.5-8.3z"/>
<path fill="#ce0000" d="M1180.1 526.3l-2.5 .9 5.2-19.2 1.1-.4z"/>
<path fill="#e10000" d="M1138.1 616.7l9.3 5.1 12.6-26.1-6.4-3.5z"/>
<path fill="#7d0000" d="M1197 527.6l-2.3-1-4.4-18.9 1.1 .4z"/>
<path fill="#8a0000" d="M1209.7 563.2l2.2-2.7-11.4-25.6-1.3 1.4z"/>
<path fill="#ea0000" d="M1153.6 592.2l6.4 3.5 10.3-28.8-4-2.1z"/>
<path fill="#dc0000" d="M1177.6 527.2l-2.1 1.2 6.4-19.9 .9-.5z"/>
<path fill="#750000" d="M1198.9 528.8l-1.9-1.2-5.6-19.5 .8 .6z"/>
<path fill="#b00000" d="M1223 623.3l10-4.7-14.7-25.1-6.8 3.2z"/>
<path fill="#a70000" d="M1211.5 596.7l6.8-3.2-12-27.9-4.2 1.9z"/>
<path fill="#e80000" d="M1175.5 528.4l-1.5 1.3 7.2-20.6 .7-.6z"/>
<path fill="#7f0000" d="M1122.7 288.5l-23.8 7.5-13.6 9.5 27.5-8.8z"/>
<path fill="#f50000" d="M1163.3 562.3l3 2.5 9.5-27.6-1.7-1.3z"/>
<path fill="#eb0000" d="M1351.7 590.7l5.9-19.1-18.4 23.8-5.4 17.2z"/>
<path fill="#710000" d="M1200.3 530.2l-1.4-1.4-6.7-20.1 .6 .6z"/>
<path fill="#930000" d="M1206.3 565.6l3.4-2.4-10.5-26.9-1.8 1.3z"/>
<path fill="#d60000" d="M1120.3 635.4l12.7 7.1 14.4-20.7-9.3-5.1z"/>
<path fill="#f10000" d="M1174 529.7l-1 1.5 7.8-21.5 .4-.6z"/>
<path fill="#a10000" d="M1037.5 606.9l10.2 16.7 20 11-8.8-14.4z"/>
<path fill="#bd0000" d="M1318.1 321.1l-21.4-12.1 11.9 20 23.8 13.5z"/>
<path fill="#c00000" d="M1267.6 649.6l13.6-10.2-20.9-9.3-10.6 7.9z"/>
<path fill="#e30000" d="M1160 595.7l7.7 2.7 7.3-29.9-4.7-1.6z"/>
<path fill="#6f0000" d="M1201 531.8l-.7-1.6-7.5-20.9 .3 .7z"/>
<path fill="#f00000" d="M1166.3 564.8l4 2.1 7.6-28.6-2.1-1.1z"/>
<path fill="#b10000" d="M1203.4 599.1l8.1-2.4-9.4-29.2-5 1.4z"/>
<path fill="#590000" d="M1018.3 383.1l-13.7 18.3-5.4 36.6 14.1-19.2z"/>
<path fill="#dc0000" d="M1147.4 621.8l11.3 4 9-27.4-7.7-2.7z"/>
<path fill="#f80000" d="M1173 531.2l-.3 1.6 8-22.4 .1-.7z"/>
<path fill="#8c0000" d="M1202.6 285.3l-23.6-.4-1.7-3.8 28.6 .5z"/>
<path fill="#9e0000" d="M1202.1 567.5l4.2-1.9-8.9-28-2.3 1.1z"/>
<path fill="#720000" d="M1201.1 533.3l-.1-1.5-7.9-21.8 .1 .7z"/>
<path fill="#b80000" d="M1236.1 644.6l13.6-6.6-16.7-19.4-10 4.7z"/>
<path fill="#db0000" d="M1167.7 598.4l8.6 1.7 4.1-30.5-5.4-1.1z"/>
<path fill="#b70000" d="M1211.2 626.8l11.8-3.5-11.5-26.6-8.1 2.4z"/>
<path fill="#890000" d="M1179 284.9l-23.3 2-6.5-3.4 28.1-2.4z"/>
<path fill="#d70000" d="M1349.9 358.3l-17.5-15.8 9.8 29.5 18.8 17.1z"/>
<path fill="#fc0000" d="M1172.7 532.8l.4 1.6 7.7-23.3-.1-.7z"/>
<path fill="#a40000" d="M1281.9 299.1l-22.6-8.3 11.2 8.6 26.2 9.6z"/>
<path fill="#e80000" d="M1170.3 566.9l4.7 1.6 5.5-29.3-2.6-.9z"/>
<path fill="#bc0000" d="M1194.6 600.4l8.8-1.3-6.3-30.2-5.4 .9z"/>
<path fill="#770000" d="M1200.5 534.9l.6-1.6-7.9-22.6-.3 .6z"/>
<path fill="#ab0000" d="M1197.1 568.9l5-1.4-7-28.8-2.7 .7z"/>
<path fill="#fd0000" d="M1379 504.1l-2.7-20.9-7.5 36.8 2.4 20.4z"/>
<path fill="#d20000" d="M1176.3 600.1l9.1 .7 .6-30.8-5.6-.4z"/>
<path fill="#8f0000" d="M1225.5 288l-22.9-2.7 3.3-3.7 27.7 3.3z"/>
<path fill="#c70000" d="M1185.4 600.8l9.2-.4-2.9-30.6-5.7 .2z"/>
<path fill="#de0000" d="M1175 568.5l5.4 1.1 3-29.8-2.9-.6z"/>
<path fill="#fc0000" d="M1173.1 534.4l1 1.5 7.2-24.1-.5-.7z"/>
<path fill="#b80000" d="M1191.7 569.8l5.4-.9-4.7-29.5-2.9 .5z"/>
<path fill="#d60000" d="M1158.7 625.8l12.6 2.5 5-28.2-8.6-1.7z"/>
<path fill="#7f0000" d="M1199.2 536.3l1.3-1.4-7.6-23.6-.5 .7z"/>
<path fill="#d20000" d="M1180.4 569.6l5.6 .4 .4-30-3-.2z"/>
<path fill="#c60000" d="M1186 570l5.7-.2-2.2-29.9-3.1 .1z"/>
<path fill="#740000" d="M1002.5 533.5l3.4 20.5 13.5 30.3-3.3-19.2z"/>
<path fill="#bf0000" d="M1198.2 628.9l13-2.1-7.8-27.7-8.8 1.3z"/>
<path fill="#b70000" d="M1067.7 634.6l14.7 13.1 18.9-1.4-12-10.7z"/>
<path fill="#f90000" d="M1174.1 535.9l1.7 1.3 6.2-24.9-.7-.5z"/>
<path fill="#8a0000" d="M1197.4 537.6l1.8-1.3-6.8-24.3-.8 .5z"/>
<path fill="#d30000" d="M1133 642.5l15.4 5.4 10.3-22.1-11.3-4z"/>
<path fill="#da0000" d="M1321.3 628.9l12.5-16.3-21 12.6-10.8 14z"/>
<path fill="#cf0000" d="M1171.3 628.3l13.4 1.1 .7-28.6-9.1-.7z"/>
<path fill="#f30000" d="M1175.8 537.2l2.1 1.1 5.1-25.5-1-.5z"/>
<path fill="#c70000" d="M1184.7 629.4l13.5-.5-3.6-28.5-9.2 .4z"/>
<path fill="#970000" d="M1195.1 538.7l2.3-1.1-5.8-25.1-1.1 .5z"/>
<path fill="#c80000" d="M1101.3 646.3l16.3 9.1 15.4-12.9-12.7-7.1z"/>
<path fill="#870000" d="M1155.7 286.9l-21.9 4.1-11.1-2.5 26.5-5z"/>
<path fill="#ea0000" d="M1177.9 538.3l2.6 .9 3.6-26-1.1-.4z"/>
<path fill="#a50000" d="M1192.4 539.4l2.7-.7-4.6-25.7-1.1 .3z"/>
<path fill="#bd0000" d="M1220 649.4l16.1-4.8-13.1-21.3-11.8 3.5z"/>
<path fill="#df0000" d="M1180.5 539.2l2.9 .6 2-26.3-1.3-.3z"/>
<path fill="#9b0000" d="M1187.8 507.2l-1.3 0 .3-16 .4 0z"/>
<path fill="#ab0000" d="M1186.5 507.2l-1.4 .1 1.3-16.1 .4 0z"/>
<path fill="#8c0000" d="M1189.1 507.4l-1.3-.2-.6-16 .4 0z"/>
<path fill="#b40000" d="M1189.5 539.9l2.9-.5-3-26.1-1.3 .2z"/>
<path fill="#bc0000" d="M1185.1 507.3l-1.2 .3 2.1-16.3 .4-.1z"/>
<path fill="#7e0000" d="M1190.3 507.7l-1.2-.3-1.5-16.2 .4 .1z"/>
<path fill="#d20000" d="M1183.4 539.8l3 .2 .3-26.4-1.3-.1z"/>
<path fill="#c30000" d="M1186.4 540l3.1-.1-1.4-26.4-1.4 .1z"/>
<path fill="#cc0000" d="M1183.9 507.6l-1.1 .4 2.9-16.6 .3-.1z"/>
<path fill="#730000" d="M1191.4 508.1l-1.1-.4-2.3-16.4 .3 .2z"/>
<path fill="#db0000" d="M1182.8 508l-.9 .5 3.5-16.9 .3-.2z"/>
<path fill="#6b0000" d="M1192.2 508.7l-.8-.6-3.1-16.6 .3 .1z"/>
<path fill="#e80000" d="M1181.9 508.5l-.7 .6 4-17.4 .2-.1z"/>
<path fill="#660000" d="M1192.8 509.3l-.6-.6-3.6-17.1 .1 .2z"/>
<path fill="#910000" d="M1246.8 292.9l-21.3-4.9 8.1-3.1 25.7 5.9z"/>
<path fill="#ec0000" d="M1372 407.9l-11-18.8 5.1 36 11.4 19.7z"/>
<path fill="#f30000" d="M1181.2 509.1l-.4 .6 4.2-17.8 .2-.2z"/>
<path fill="#cb0000" d="M1285.6 651.7l16.4-12.5-20.8 .2-13.6 10.2z"/>
<path fill="#650000" d="M1193.1 510l-.3-.7-4.1-17.5 .1 .2z"/>
<path fill="#c10000" d="M1250.1 658.1l17.5-8.5-17.9-11.6-13.6 6.6z"/>
<path fill="#570000" d="M999.2 438l-5.6 20.4 1.2 38.6 5.5-20.7z"/>
<path fill="#fa0000" d="M1180.8 509.7l-.1 .7 4.3-18.2 0-.3z"/>
<path fill="#670000" d="M1193.2 510.7l-.1-.7-4.3-18 0 .2z"/>
<path fill="#d00000" d="M1148.4 647.9l17.2 3.6 5.7-23.2-12.6-2.5z"/>
<path fill="#fe0000" d="M1180.7 510.4l.1 .7 4.3-18.7-.1-.2z"/>
<path fill="#6d0000" d="M1192.9 511.3l.3-.6-4.4-18.5 0 .2z"/>
<path fill="#ff0000" d="M1180.8 511.1l.5 .7 3.9-19.2-.1-.2z"/>
<path fill="#760000" d="M1192.4 512l.5-.7-4.1-18.9-.2 .2z"/>
<path fill="#790000" d="M1098.9 296l-19.9 9.8-16.8 11 23.1-11.3z"/>
<path fill="#c20000" d="M1202.3 652.2l17.7-2.8-8.8-22.6-13 2.1z"/>
<path fill="#fb0000" d="M1181.3 511.8l.7 .5 3.4-19.6-.2-.1z"/>
<path fill="#810000" d="M1191.6 512.5l.8-.5-3.8-19.4-.3 .2z"/>
<path fill="#f50000" d="M1182 512.3l1 .5 2.7-19.9-.3-.2z"/>
<path fill="#6a0000" d="M1062.2 316.8l-17.7 13.5-15.6 22.5 19.7-15.1z"/>
<path fill="#8f0000" d="M1190.5 513l1.1-.5-3.3-19.7-.3 .1z"/>
<path fill="#eb0000" d="M1183 512.8l1.1 .4 2-20.2-.4-.1z"/>
<path fill="#9f0000" d="M1189.4 513.3l1.1-.3-2.5-20.1-.3 .1z"/>
<path fill="#df0000" d="M1184.1 513.2l1.3 .3 1-20.4-.3-.1z"/>
<path fill="#b00000" d="M1188.1 513.5l1.3-.2-1.7-20.3-.4 .1z"/>
<path fill="#f40000" d="M1365 560.8l6.2-20.4-13.6 31.2-5.9 19.1z"/>
<path fill="#d00000" d="M1185.4 513.5l1.3 .1 .2-20.5-.5 0z"/>
<path fill="#c00000" d="M1186.7 513.6l1.4-.1-.8-20.4-.4 0z"/>
<path fill="#8a0000" d="M1019.4 584.3l11.2 18.6 17.1 20.7-10.2-16.7z"/>
<path fill="#cb0000" d="M1165.6 651.5l18.3 1.4 .8-23.5-13.4-1.1z"/>
<path fill="#c70000" d="M1183.9 652.9l18.4-.7-4.1-23.3-13.5 .5z"/>
<path fill="#840000" d="M1133.8 291l-19.6 6.3-15.3-1.3 23.8-7.5z"/>
<path fill="#c80000" d="M1117.6 655.4l19.7 7.1 11.1-14.6-15.4-5.4z"/>
<path fill="#950000" d="M1187.2 491.2l-.4 0 .1-11.1 .1 0z"/>
<path fill="#a70000" d="M1186.8 491.2l-.4 0 .5-11.1z"/>
<path fill="#850000" d="M1187.6 491.2l-.4 0-.2-11.1z"/>
<path fill="#b80000" d="M1186.4 491.2l-.4 .1 .8-11.2 .1 0z"/>
<path fill="#770000" d="M1188 491.3l-.4-.1-.6-11.1 .1 0z"/>
<path fill="#c90000" d="M1186 491.3l-.3 .1 1.1-11.3z"/>
<path fill="#6b0000" d="M1188.3 491.5l-.3-.2-.9-11.2z"/>
<path fill="#d90000" d="M1185.7 491.4l-.3 .2 1.3-11.5 .1 0z"/>
<path fill="#620000" d="M1188.6 491.6l-.3-.1-1.2-11.4z"/>
<path fill="#e70000" d="M1185.4 491.6l-.2 .1 1.5-11.5 0-.1z"/>
<path fill="#5d0000" d="M1188.7 491.8l-.1-.2-1.5-11.5 .1 .1z"/>
<path fill="#a80000" d="M1300.4 309.5l-18.5-10.4 14.8 9.9 21.4 12.1z"/>
<path fill="#f20000" d="M1185.2 491.7l-.2 .2 1.7-11.7z"/>
<path fill="#5c0000" d="M1188.8 492l-.1-.2-1.5-11.6z"/>
<path fill="#fa0000" d="M1185 491.9l0 .3 1.7-12z"/>
<path fill="#5e0000" d="M1188.8 492.2l0-.2-1.6-11.8z"/>
<path fill="#fe0000" d="M1185 492.2l.1 .2 1.6-12.2z"/>
<path fill="#640000" d="M1188.8 492.4l0-.2-1.6-12z"/>
<path fill="#860000" d="M1199.2 299.3l-18.5-.4-1.7-14 23.6 .4z"/>
<path fill="#fe0000" d="M1185.1 492.4l.1 .2 1.5-12.3 0-.1z"/>
<path fill="#6e0000" d="M1188.6 492.6l.2-.2-1.6-12.2-.1 .1z"/>
<path fill="#fb0000" d="M1185.2 492.6l.2 .1 1.3-12.4z"/>
<path fill="#7a0000" d="M1188.3 492.8l.3-.2-1.5-12.3z"/>
<path fill="#f40000" d="M1185.4 492.7l.3 .2 1.1-12.6-.1 0z"/>
<path fill="#890000" d="M1188 492.9l.3-.1-1.2-12.5z"/>
<path fill="#ea0000" d="M1185.7 492.9l.4 .1 .7-12.7z"/>
<path fill="#990000" d="M1187.7 493l.3-.1-.9-12.6-.1 0z"/>
<path fill="#dd0000" d="M1186.1 493l.3 .1 .5-12.8-.1 0z"/>
<path fill="#ab0000" d="M1187.3 493.1l.4-.1-.7-12.7z"/>
<path fill="#cd0000" d="M1186.4 493.1l.5 0 0-12.8z"/>
<path fill="#bd0000" d="M1186.9 493.1l.4 0-.3-12.8-.1 0z"/>
<path fill="#c20000" d="M1229.5 664.3l20.6-6.2-14-13.5-16.1 4.8z"/>
<path fill="#5b0000" d="M1028.9 352.8l-12.7 16.9-11.6 31.7 13.7-18.3z"/>
<path fill="#a20000" d="M1047.7 623.6l17 15.2 17.7 8.9-14.7-13.1z"/>
<path fill="#880000" d="M1180.7 298.9l-18.3 1.6-6.7-13.6 23.3-2z"/>
<path fill="#b80000" d="M1082.4 647.7l19.7 11.1 15.5-3.4-16.3-9.1z"/>
<path fill="#930000" d="M1265.4 299.8l-18.6-6.9 12.5-2.1 22.6 8.3z"/>
<path fill="#850000" d="M1217.2 301.4l-18-2.1 3.4-14 22.9 2.7z"/>
<path fill="#c10000" d="M1333.8 335.2l-15.7-14.1 14.3 21.4 17.5 15.8z"/>
<path fill="#f70000" d="M1380.1 465.5l-2.6-20.7-1.2 38.4 2.7 20.9z"/>
<path fill="#e50000" d="M1337.8 608.9l13.9-18.2-17.9 21.9-12.5 16.3z"/>
<path fill="#900000" d="M1187 480.1l-.1 0 0-4z"/>
<path fill="#a20000" d="M1186.9 480.1l0-4z"/>
<path fill="#800000" d="M1187 480.1l-.1-4z"/>
<path fill="#b40000" d="M1186.9 480.1l-.1 0 .1-4z"/>
<path fill="#710000" d="M1187.1 480.1l-.1 0-.1-4z"/>
<path fill="#c60000" d="M1186.8 480.1l.1-4z"/>
<path fill="#650000" d="M1187.1 480.1l-.2-4z"/>
<path fill="#d60000" d="M1186.8 480.1l-.1 0 .2-4z"/>
<path fill="#600000" d="M994.8 497l3.4 21 7.7 36-3.4-20.5z"/>
<path fill="#5c0000" d="M1187.1 480.1l-.2-4z"/>
<path fill="#e40000" d="M1186.7 480.1l0 .1 .2-4.1z"/>
<path fill="#570000" d="M1187.2 480.2l-.1-.1-.2-4z"/>
<path fill="#ef0000" d="M1186.7 480.2l.2-4.1z"/>
<path fill="#550000" d="M1187.2 480.2l-.3-4.1z"/>
<path fill="#f70000" d="M1186.7 480.2l.2-4.1z"/>
<path fill="#580000" d="M1187.2 480.2l-.3-4.1z"/>
<path fill="#fc0000" d="M1186.7 480.2l.2-4.1z"/>
<path fill="#5e0000" d="M1187.2 480.2l-.3-4.1z"/>
<path fill="#fc0000" d="M1186.7 480.2l0 .1 .2-4.2z"/>
<path fill="#680000" d="M1187.1 480.3l.1-.1-.3-4.1z"/>
<path fill="#f90000" d="M1186.7 480.3l.2-4.2z"/>
<path fill="#750000" d="M1187.1 480.3l-.2-4.2z"/>
<path fill="#f20000" d="M1186.7 480.3l.1 0 .1-4.2z"/>
<path fill="#840000" d="M1187.1 480.3l-.2-4.2z"/>
<path fill="#e70000" d="M1186.8 480.3l.1-4.2z"/>
<path fill="#950000" d="M1187 480.3l.1 0-.2-4.2z"/>
<path fill="#da0000" d="M1186.8 480.3l.1 0 0-4.2z"/>
<path fill="#a70000" d="M1187 480.3l-.1-4.2z"/>
<path fill="#ca0000" d="M1186.9 480.3l0-4.2z"/>
<path fill="#b90000" d="M1186.9 480.3l.1 0-.1-4.2z"/>
<path fill="#c70000" d="M1137.3 662.5l22.2 4.5 6.1-15.5-17.2-3.6z"/>
<path fill="#890000" d="M1162.4 300.5l-17.1 3.3-11.5-12.8 21.9-4.1z"/>
<path fill="#a60000" d="M1186.9 476.1l0-4.3 .1 0z"/>
<path fill="#a60000" d="M1186.9 476.1l0-4.3z"/>
<path fill="#a60000" d="M1186.9 476.1l.1-4.3z"/>
<path fill="#a60000" d="M1186.9 476.1l-.1-4.3 .1 0z"/>
<path fill="#a60000" d="M1186.9 476.1l.1-4.3 .1 0z"/>
<path fill="#a60000" d="M1186.9 476.1l-.1-4.3z"/>
<path fill="#a60000" d="M1186.9 476.1l.2-4.3z"/>
<path fill="#a60000" d="M1186.9 476.1l-.2-4.3 .1 0z"/>
<path fill="#a60000" d="M1186.9 476.1l.2-4.3z"/>
<path fill="#a60000" d="M1186.9 476.1l-.2-4.2 0-.1z"/>
<path fill="#a60000" d="M1186.9 476.1l.2-4.3 .1 .1z"/>
<path fill="#a60000" d="M1186.9 476.1l-.2-4.2z"/>
<path fill="#a60000" d="M1186.9 476.1l.3-4.2z"/>
<path fill="#a60000" d="M1186.9 476.1l-.2-4.2z"/>
<path fill="#a60000" d="M1186.9 476.1l.3-4.2z"/>
<path fill="#a60000" d="M1186.9 476.1l-.2-4.2z"/>
<path fill="#a60000" d="M1186.9 476.1l.3-4.2z"/>
<path fill="#a60000" d="M1186.9 476.1l-.2-4.1 0-.1z"/>
<path fill="#a60000" d="M1186.9 476.1l.3-4.2-.1 .1z"/>
<path fill="#c90000" d="M1264.2 662.1l21.4-10.4-18-2.1-17.5 8.5z"/>
<path fill="#a60000" d="M1186.9 476.1l-.2-4.1z"/>
<path fill="#a60000" d="M1186.9 476.1l.2-4.1z"/>
<path fill="#a60000" d="M1186.9 476.1l-.1-4.1-.1 0z"/>
<path fill="#a60000" d="M1186.9 476.1l.2-4.1z"/>
<path fill="#a60000" d="M1186.9 476.1l-.1-4.1z"/>
<path fill="#a60000" d="M1186.9 476.1l.2-4.1-.1 0z"/>
<path fill="#a60000" d="M1186.9 476.1l0-4.1-.1 0z"/>
<path fill="#a60000" d="M1186.9 476.1l.1-4.1z"/>
<path fill="#a60000" d="M1186.9 476.1l0-4.1z"/>
<path fill="#a60000" d="M1186.9 476.1l.1-4.1-.1 0z"/>
<path fill="#c30000" d="M1206.8 668l22.7-3.7-9.5-14.9-17.7 2.8z"/>
<path fill="#d50000" d="M1302.3 643.5l19-14.6-19.3 10.3-16.4 12.5z"/>
<path fill="#840000" d="M1233.9 305.3l-16.7-3.9 8.3-13.4 21.3 4.9z"/>
<path fill="#c60000" d="M1159.5 667l23.5 1.9 .9-16-18.3-1.4z"/>
<path fill="#860000" d="M1187 471.8l-.1 0-.1-12.8 .4 0z"/>
<path fill="#980000" d="M1186.9 471.8l-.5-12.8 .4 0z"/>
<path fill="#760000" d="M1187 471.8l.2-12.8 .4 0z"/>
<path fill="#a90000" d="M1186.9 471.8l-.1 0-.8-12.7 .4-.1z"/>
<path fill="#680000" d="M1187.1 471.8l-.1 0 .6-12.8 .4 .1z"/>
<path fill="#ba0000" d="M1186.8 471.8l-1.1-12.6 .3-.1z"/>
<path fill="#5c0000" d="M1187.1 471.8l.9-12.7 .3 .1z"/>
<path fill="#ca0000" d="M1186.8 471.8l-.1 0-1.3-12.5 .3-.1z"/>
<path fill="#530000" d="M1187.1 471.8l1.2-12.6 .3 .2z"/>
<path fill="#d80000" d="M1186.7 471.8l0 .1-1.5-12.4 .2-.2z"/>
<path fill="#4e0000" d="M1187.2 471.9l-.1-.1 1.5-12.4 .1 .2z"/>
<path fill="#c50000" d="M1183 668.9l23.8-.9-4.5-15.8-18.4 .7z"/>
<path fill="#e30000" d="M1186.7 471.9l-1.7-12.2 .2-.2z"/>
<path fill="#4d0000" d="M1187.2 471.9l1.5-12.3 .1 .2z"/>
<path fill="#eb0000" d="M1186.7 471.9l-1.7-12 0-.2z"/>
<path fill="#4f0000" d="M1187.2 471.9l1.6-12.1 0 .2z"/>
<path fill="#ef0000" d="M1186.7 471.9l-1.6-11.8-.1-.2z"/>
<path fill="#550000" d="M1187.2 471.9l1.6-11.9 0 .2z"/>
<path fill="#d80000" d="M1360.1 375.7l-10.2-17.4 11.1 30.8 11 18.8z"/>
<path fill="#f00000" d="M1186.7 471.9l0 .1-1.5-11.7-.1-.2z"/>
<path fill="#5f0000" d="M1187.1 472l.1-.1 1.6-11.7-.2 .2z"/>
<path fill="#ec0000" d="M1186.7 472l-1.3-11.5-.2-.2z"/>
<path fill="#6b0000" d="M1187.1 472l1.5-11.6-.3 .2z"/>
<path fill="#e50000" d="M1186.7 472l.1 0-1.1-11.4-.3-.1z"/>
<path fill="#7a0000" d="M1187.1 472l1.2-11.4-.3 .1z"/>
<path fill="#db0000" d="M1186.8 472l-.7-11.2-.4-.2z"/>
<path fill="#8b0000" d="M1187 472l.1 0 .9-11.3-.3 .1z"/>
<path fill="#ce0000" d="M1186.8 472l.1 0-.5-11.2-.3 0z"/>
<path fill="#9c0000" d="M1187 472l.7-11.2-.4 0z"/>
<path fill="#810000" d="M1114.2 297.3l-16.4 8-18.8 .5 19.9-9.8z"/>
<path fill="#bf0000" d="M1186.9 472l0-11.1-.5-.1z"/>
<path fill="#ae0000" d="M1186.9 472l.1 0 .3-11.2-.4 .1z"/>
<path fill="#510000" d="M1004.6 401.4l-5.3 19.5-5.7 37.5 5.6-20.4z"/>
<path fill="#730000" d="M1079 305.8l-15.1 11.6-19.4 12.9 17.7-13.5z"/>
<path fill="#8a0000" d="M1145.3 303.8l-15.4 4.9-15.7-11.4 19.6-6.3z"/>
<path fill="#730000" d="M1005.9 554l12.1 19.8 12.6 29.1-11.2-18.6z"/>
<path fill="#820000" d="M1196 321.7l-13.7-.3-1.6-22.5 18.5 .4z"/>
<path fill="#ba0000" d="M1102.1 658.8l24.1 8.7 11.1-5-19.7-7.1z"/>
<path fill="#f70000" d="M1372.5 525l6.5-20.9-7.8 36.3-6.2 20.4z"/>
<path fill="#830000" d="M1187.2 459l-.4 0-.3-20.7 1.3 0z"/>
<path fill="#940000" d="M1186.8 459l-.4 0-1.3-20.6 1.4-.1z"/>
<path fill="#740000" d="M1187.6 459l-.4 0 .6-20.7 1.4 .2z"/>
<path fill="#870000" d="M1182.3 321.4l-13.4 1.2-6.5-22.1 18.3-1.6z"/>
<path fill="#a40000" d="M1186.4 459l-.4 .1-2.1-20.4 1.2-.3z"/>
<path fill="#660000" d="M1188 459.1l-.4-.1 1.6-20.5 1.2 .3z"/>
<path fill="#b40000" d="M1186 459.1l-.3 .1-3-20.2 1.2-.3z"/>
<path fill="#5b0000" d="M1188.3 459.2l-.3-.1 2.4-20.3 1 .4z"/>
<path fill="#c30000" d="M1185.7 459.2l-.3 .1-3.6-19.8 .9-.5z"/>
<path fill="#7e0000" d="M1209.2 323.3l-13.2-1.6 3.2-22.4 18 2.1z"/>
<path fill="#530000" d="M1188.6 459.4l-.3-.2 3.1-20 .9 .5z"/>
<path fill="#940000" d="M1280.6 308.4l-15.2-8.6 16.5-.7 18.5 10.4z"/>
<path fill="#d00000" d="M1185.4 459.3l-.2 .2-4.1-19.4 .7-.6z"/>
<path fill="#4e0000" d="M1188.7 459.6l-.1-.2 3.7-19.7 .6 .6z"/>
<path fill="#830000" d="M1248.4 310.7l-14.5-5.4 12.9-12.4 18.6 6.9z"/>
<path fill="#db0000" d="M1185.2 459.5l-.2 .2-4.3-18.9 .4-.7z"/>
<path fill="#4d0000" d="M1188.8 459.8l-.1-.2 4.2-19.3 .3 .7z"/>
<path fill="#c60000" d="M1239.1 669.7l25.1-7.6-14.1-4-20.6 6.2z"/>
<path fill="#e20000" d="M1185 459.7l0 .2-4.4-18.5 .1-.6z"/>
<path fill="#4f0000" d="M1188.8 460l0-.2 4.4-18.8 0 .7z"/>
<path fill="#e60000" d="M1185 459.9l.1 .2-4.3-18-.2-.7z"/>
<path fill="#8c0000" d="M1168.9 322.6l-12.7 2.4-10.9-21.2 17.1-3.3z"/>
<path fill="#550000" d="M1188.8 460.2l0-.2 4.4-18.3-.2 .6z"/>
<path fill="#e70000" d="M1185.1 460.1l.1 .2-4-17.6-.4-.6z"/>
<path fill="#630000" d="M1044.5 330.3l-11.3 15-17 24.4 12.7-16.9z"/>
<path fill="#5e0000" d="M1188.6 460.4l.2-.2 4.2-17.9-.6 .6z"/>
<path fill="#a50000" d="M1064.7 638.8l23 13 14.4 7-19.7-11.1z"/>
<path fill="#8c0000" d="M1030.6 602.9l19 17 15.1 18.9-17-15.2z"/>
<path fill="#e40000" d="M1185.2 460.3l.2 .2-3.4-17.2-.8-.6z"/>
<path fill="#aa0000" d="M1313.8 321.6l-13.4-12.1 17.7 11.6 15.7 14.1z"/>
<path fill="#6a0000" d="M1188.3 460.6l.3-.2 3.8-17.5-.8 .6z"/>
<path fill="#dd0000" d="M1185.4 460.5l.3 .1-2.8-16.8-.9-.5z"/>
<path fill="#7a0000" d="M1221.5 326.1l-12.3-2.8 8-21.9 16.7 3.9z"/>
<path fill="#780000" d="M1188 460.7l.3-.1 3.3-17.1-1 .4z"/>
<path fill="#d30000" d="M1185.7 460.6l.4 .2-2-16.6-1.2-.4z"/>
<path fill="#810000" d="M1187.8 438.3l-1.3 0-.6-26.9 3.1 .1z"/>
<path fill="#870000" d="M1187.7 460.8l.3-.1 2.6-16.8-1.2 .4z"/>
<path fill="#900000" d="M1186.5 438.3l-1.4 .1-2.3-26.7 3.1-.3z"/>
<path fill="#730000" d="M1189.2 438.5l-1.4-.2 1.2-26.8 3 .4z"/>
<path fill="#c70000" d="M1186.1 460.8l.3 0-1.1-16.4-1.2-.2z"/>
<path fill="#980000" d="M1187.3 460.8l.4 0 1.7-16.5-1.3 .1z"/>
<path fill="#b80000" d="M1186.4 460.8l.5 .1-.2-16.4-1.4-.1z"/>
<path fill="#a80000" d="M1186.9 460.9l.4-.1 .8-16.4-1.4 .1z"/>
<path fill="#9f0000" d="M1185.1 438.4l-1.2 .3-4-26.4 2.9-.6z"/>
<path fill="#660000" d="M1190.4 438.8l-1.2-.3 2.8-26.6 2.8 .7z"/>
<path fill="#ea0000" d="M1374.5 427.6l-2.5-19.7 5.5 36.9 2.6 20.7z"/>
<path fill="#ae0000" d="M1183.9 438.7l-1.2 .3-5.3-25.8 2.5-.9z"/>
<path fill="#5c0000" d="M1191.4 439.2l-1-.4 4.4-26.2 2.4 .9z"/>
<path fill="#800000" d="M1193.1 350l-9.3-.2-1.5-28.4 13.7 .3z"/>
<path fill="#bc0000" d="M1182.7 439l-.9 .5-6.5-25.2 2.1-1.1z"/>
<path fill="#bc0000" d="M1126.2 667.5l27.1 5.6 6.2-6.1-22.2-4.5z"/>
<path fill="#ec0000" d="M1350.1 580.2l14.9-19.4-13.3 29.9-13.9 18.2z"/>
<path fill="#880000" d="M1183.8 349.8l-9.2 .8-5.7-28 13.4-1.2z"/>
<path fill="#520000" d="M993.6 458.4l3.5 20.8 1.1 38.8-3.4-21z"/>
<path fill="#550000" d="M1192.3 439.7l-.9-.5 5.8-25.7 1.9 1.2z"/>
<path fill="#790000" d="M1202.2 351.1l-9.1-1.1 2.9-28.3 13.2 1.6z"/>
<path fill="#8b0000" d="M1129.9 308.7l-12.8 6.3-19.3-9.7 16.4-8z"/>
<path fill="#910000" d="M1156.2 325l-11.2 3.7-15.1-20 15.4-4.9z"/>
<path fill="#c70000" d="M1181.8 439.5l-.7 .6-7.4-24.5 1.6-1.3z"/>
<path fill="#7f0000" d="M1189 411.5l-3.1-.1-.9-30.5 5.7 .1z"/>
<path fill="#500000" d="M1192.9 440.3l-.6-.6 6.8-25 1.4 1.4z"/>
<path fill="#d00000" d="M1277.4 655.6l24.9-12.1-16.7 8.2-21.4 10.4z"/>
<path fill="#8d0000" d="M1185.9 411.4l-3.1 .3-3.5-30.3 5.7-.5z"/>
<path fill="#730000" d="M1192 411.9l-3-.4 1.7-30.5 5.6 .7z"/>
<path fill="#c30000" d="M1211.2 674.2l27.9-4.5-9.6-5.4-22.7 3.7z"/>
<path fill="#900000" d="M1174.6 350.6l-8.6 1.7-9.8-27.3 12.7-2.4z"/>
<path fill="#7f0000" d="M1190.7 381l-5.7-.1-1.2-31.1 9.3 .2z"/>
<path fill="#9a0000" d="M1182.8 411.7l-2.9 .6-5.9-29.8 5.3-1.1z"/>
<path fill="#d10000" d="M1181.1 440.1l-.4 .7-7.9-23.8 .9-1.4z"/>
<path fill="#8a0000" d="M1185 380.9l-5.7 .5-4.7-30.8 9.2-.8z"/>
<path fill="#680000" d="M1194.8 412.6l-2.8-.7 4.3-30.2 5.2 1.3z"/>
<path fill="#4f0000" d="M1193.2 441l-.3-.7 7.6-24.2 .8 1.4z"/>
<path fill="#750000" d="M1196.3 381.7l-5.6-.7 2.4-31 9.1 1.1z"/>
<path fill="#770000" d="M1232.2 330.2l-10.7-4.1 12.4-20.8 14.5 5.4z"/>
<path fill="#720000" d="M1210.5 353.1l-8.3-2 7-27.8 12.3 2.8z"/>
<path fill="#7f0000" d="M1097.8 305.3l-12.4 9.6-21.5 2.5 15.1-11.6z"/>
<path fill="#dd0000" d="M1316.5 625.1l21.3-16.2-16.5 20-19 14.6z"/>
<path fill="#a70000" d="M1179.9 412.3l-2.5 .9-8.2-29.1 4.8-1.6z"/>
<path fill="#d80000" d="M1180.7 440.8l-.1 .6-8.1-22.9 .3-1.5z"/>
<path fill="#c10000" d="M1342.8 350.6l-9-15.4 16.1 23.1 10.2 17.4z"/>
<path fill="#950000" d="M1179.3 381.4l-5.3 1.1-8-30.2 8.6-1.7z"/>
<path fill="#be0000" d="M1153.3 673.1l28.8 2.3 .9-6.5-23.5-1.9z"/>
<path fill="#510000" d="M1193.2 441.7l0-.7 8.1-23.5 0 1.6z"/>
<path fill="#5f0000" d="M1197.2 413.5l-2.4-.9 6.7-29.6 4.5 1.7z"/>
<path fill="#830000" d="M1260.2 317.5l-11.8-6.8 17-10.9 15.2 8.6z"/>
<path fill="#6c0000" d="M1201.5 383l-5.2-1.3 5.9-30.6 8.3 2z"/>
<path fill="#c10000" d="M1182.1 675.4l29.1-1.2-4.4-6.2-23.8 .9z"/>
<path fill="#db0000" d="M1180.6 441.4l.2 .7-7.9-22-.4-1.6z"/>
<path fill="#540000" d="M1016.2 369.7l-4.9 17.9-12 33.3 5.3-19.5z"/>
<path fill="#b30000" d="M1177.4 413.2l-2.1 1.1-10-28.2 3.9-2z"/>
<path fill="#560000" d="M1193 442.3l.2-.6 8.1-22.6-.6 1.4z"/>
<path fill="#980000" d="M1166 352.3l-7.7 2.5-13.3-26.1 11.2-3.7z"/>
<path fill="#590000" d="M1199.1 414.7l-1.9-1.2 8.8-28.8 3.6 2.2z"/>
<path fill="#a00000" d="M1174 382.5l-4.8 1.6-10.9-29.3 7.7-2.5z"/>
<path fill="#dc0000" d="M1180.8 442.1l.4 .6-7.3-21.2-1-1.4z"/>
<path fill="#5f0000" d="M1192.4 442.9l.6-.6 7.7-21.8-1.2 1.4z"/>
<path fill="#6c0000" d="M1217.8 355.9l-7.3-2.8 11-27 10.7 4.1z"/>
<path fill="#650000" d="M1206 384.7l-4.5-1.7 9-29.9 7.3 2.8z"/>
<path fill="#950000" d="M1145 328.7l-9.4 4.7-18.5-18.4 12.8-6.3z"/>
<path fill="#d90000" d="M1181.2 442.7l.8 .6-6.4-20.5-1.7-1.3z"/>
<path fill="#bd0000" d="M1175.3 414.3l-1.6 1.3-11.3-27.1 2.9-2.4z"/>
<path fill="#690000" d="M1191.6 443.5l.8-.6 7.1-21-1.9 1.3z"/>
<path fill="#950000" d="M1291.5 318.4l-10.9-10 19.8 1.1 13.4 12.1z"/>
<path fill="#550000" d="M1200.5 416.1l-1.4-1.4 10.5-27.8 2.5 2.5z"/>
<path fill="#d30000" d="M1182 443.3l.9 .5-5.2-19.9-2.1-1.1z"/>
<path fill="#f10000" d="M1373.7 486.1l6.4-20.6-1.1 38.6-6.5 20.9z"/>
<path fill="#600000" d="M998.2 518l12.5 20.3 7.3 35.5-12.1-19.8z"/>
<path fill="#6f0000" d="M1063.9 317.4l-9.7 12.9-21 15 11.3-15z"/>
<path fill="#760000" d="M1190.6 443.9l1-.4 6-20.3-2.3 1z"/>
<path fill="#a90000" d="M1087.7 651.8l28.1 10.1 10.4 5.6-24.1-8.7z"/>
<path fill="#a90000" d="M1169.2 384.1l-3.9 2-13.4-28 6.4-3.3z"/>
<path fill="#ca0000" d="M1182.9 443.8l1.2 .4-3.7-19.5-2.7-.8z"/>
<path fill="#850000" d="M1189.4 444.3l1.2-.4 4.7-19.7-2.8 .7z"/>
<path fill="#740000" d="M1240.8 335.2l-8.6-5 16.2-19.5 11.8 6.8z"/>
<path fill="#c60000" d="M1173.7 415.6l-.9 1.4-12.2-25.8 1.8-2.7z"/>
<path fill="#a00000" d="M1158.3 354.8l-6.4 3.3-16.3-24.7 9.4-4.7z"/>
<path fill="#bf0000" d="M1184.1 444.2l1.2 .2-2-19.2-2.9-.5z"/>
<path fill="#940000" d="M1188.1 444.4l1.3-.1 3.1-19.4-3 .5z"/>
<path fill="#5f0000" d="M1209.6 386.9l-3.6-2.2 11.8-28.8 5.8 3.4z"/>
<path fill="#b10000" d="M1185.3 444.4l1.4 .1-.3-19-3.1-.3z"/>
<path fill="#a30000" d="M1186.7 444.5l1.4-.1 1.4-19-3.1 .1z"/>
<path fill="#540000" d="M1201.3 417.5l-.8-1.4 11.6-26.7 1.4 2.7z"/>
<path fill="#8c0000" d="M1117.1 315l-9.6 7.5-22.1-7.6 12.4-9.6z"/>
<path fill="#680000" d="M1223.6 359.3l-5.8-3.4 14.4-25.7 8.6 5z"/>
<path fill="#c90000" d="M1248 664.5l29.4-8.9-13.2 6.5-25.1 7.6z"/>
<path fill="#cc0000" d="M1172.8 417l-.3 1.5-12.4-24.6 .5-2.7z"/>
<path fill="#b20000" d="M1165.3 386.1l-2.9 2.4-15.2-26.6 4.7-3.8z"/>
<path fill="#d60000" d="M1362.4 393.8l-2.3-18.1 11.9 32.2 2.5 19.7z"/>
<path fill="#560000" d="M1201.3 419.1l0-1.6 12.2-25.4 .2 2.8z"/>
<path fill="#760000" d="M1018 573.8l20.3 18.1 11.3 28-19-17z"/>
<path fill="#910000" d="M1049.6 619.9l25.8 14.5 12.3 17.4-23-13z"/>
<path fill="#5c0000" d="M1212.1 389.4l-2.5-2.5 14-27.6 4.2 4z"/>
<path fill="#820000" d="M1268.7 325.3l-8.5-7.8 20.4-9.1 10.9 10z"/>
<path fill="#ab0000" d="M1321.5 334.8l-7.7-13.2 20 13.6 9 15.4z"/>
<path fill="#990000" d="M1135.6 333.4l-7 5.6-21.1-16.5 9.6-7.5z"/>
<path fill="#cf0000" d="M1172.5 418.5l.4 1.6-12.1-23.4-.7-2.8z"/>
<path fill="#4d0000" d="M999.3 420.9l3.4 19.8-5.6 38.5-3.5-20.8z"/>
<path fill="#a60000" d="M1151.9 358.1l-4.7 3.8-18.6-22.9 7-5.6z"/>
<path fill="#5a0000" d="M1200.7 420.5l.6-1.4 12.4-24.2-1.1 2.7z"/>
<path fill="#ed0000" d="M1357.1 544.8l15.4-19.8-7.5 35.8-14.9 19.4z"/>
<path fill="#b90000" d="M1162.4 388.5l-1.8 2.7-16.3-25 2.9-4.3z"/>
<path fill="#ae0000" d="M1115.8 661.9l31.7 6.6 5.8 4.6-27.1-5.6z"/>
<path fill="#660000" d="M1227.8 363.3l-4.2-4 17.2-24.1 6.2 5.8z"/>
<path fill="#7e0000" d="M1085.4 314.9l-7.8 10.6-23.4 4.8 9.7-12.9z"/>
<path fill="#5e0000" d="M1033.2 345.3l-4.3 16-17.6 26.3 4.9-17.9z"/>
<path fill="#cf0000" d="M1172.9 420.1l1 1.4-11.2-22.2-1.9-2.6z"/>
<path fill="#730000" d="M1247 341l-6.2-5.8 19.4-17.7 8.5 7.8z"/>
<path fill="#5b0000" d="M1213.5 392.1l-1.4-2.7 15.7-26.1 2.3 4.4z"/>
<path fill="#610000" d="M1199.5 421.9l1.2-1.4 11.9-22.9-2.3 2.6z"/>
<path fill="#d40000" d="M1288.7 638.6l27.8-13.5-14.2 18.4-24.9 12.1z"/>
<path fill="#c20000" d="M1215.4 669.8l32.6-5.3-8.9 5.2-27.9 4.5z"/>
<path fill="#cd0000" d="M1173.9 421.5l1.7 1.3-9.8-21.1-3.1-2.4z"/>
<path fill="#e20000" d="M1327.1 597.5l23-17.3-12.3 28.7-21.3 16.2z"/>
<path fill="#6b0000" d="M1197.6 423.2l1.9-1.3 10.8-21.7-3.5 2.2z"/>
<path fill="#be0000" d="M1160.6 391.2l-.5 2.7-16.8-23.3 1-4.4z"/>
<path fill="#ab0000" d="M1147.2 361.9l-2.9 4.3-20.1-21.1 4.4-6.1z"/>
<path fill="#b40000" d="M1147.5 668.5l33.8 2.6 .8 4.3-28.8-2.3z"/>
<path fill="#c70000" d="M1175.6 422.8l2.1 1.1-7.9-20.2-4-2z"/>
<path fill="#8d0000" d="M1107.5 322.5l-6 8.4-23.9-5.4 7.8-10.6z"/>
<path fill="#5d0000" d="M1213.7 394.9l-.2-2.8 16.6-24.4 .3 4.4z"/>
<path fill="#950000" d="M1297.7 329.3l-6.2-10.9 22.3 3.2 7.7 13.2z"/>
<path fill="#760000" d="M1195.3 424.2l2.3-1 9.2-20.8-4.3 1.9z"/>
<path fill="#bb0000" d="M1181.3 671.1l34.1-1.3-4.2 4.4-29.1 1.2z"/>
<path fill="#e40000" d="M1368.2 447.3l6.3-19.7 5.6 37.9-6.4 20.6z"/>
<path fill="#c00000" d="M1177.7 423.9l2.7 .8-5.7-19.4-4.9-1.6z"/>
<path fill="#9c0000" d="M1128.6 339l-4.4 6.1-22.7-14.2 6-8.4z"/>
<path fill="#650000" d="M1230.1 367.7l-2.3-4.4 19.2-22.3 3.4 6.3z"/>
<path fill="#830000" d="M1192.5 424.9l2.8-.7 7.2-19.9-5.1 1.4z"/>
<path fill="#520000" d="M997.1 479.2l12.5 20 1.1 39.1-12.5-20.3z"/>
<path fill="#c00000" d="M1344.7 366.7l-1.9-16.1 17.3 25.1 2.3 18.1z"/>
<path fill="#b60000" d="M1180.4 424.7l2.9 .5-3.1-18.9-5.5-1z"/>
<path fill="#900000" d="M1189.5 425.4l3-.5 4.9-19.2-5.6 .8z"/>
<path fill="#c00000" d="M1160.1 393.9l.7 2.8-16.4-21.6-1.1-4.5z"/>
<path fill="#aa0000" d="M1183.3 425.2l3.1 .3-.4-18.8-5.8-.4z"/>
<path fill="#9d0000" d="M1186.4 425.5l3.1-.1 2.3-18.9-5.8 .2z"/>
<path fill="#820000" d="M1273.5 333.8l-4.8-8.5 22.8-6.9 6.2 10.9z"/>
<path fill="#720000" d="M1250.4 347.3l-3.4-6.3 21.7-15.7 4.8 8.5z"/>
<path fill="#6c0000" d="M1054.2 330.3l-3.5 13.6-21.8 17.4 4.3-16z"/>
<path fill="#600000" d="M1212.6 397.6l1.1-2.7 16.7-22.8-1.8 4.4z"/>
<path fill="#970000" d="M1075.4 634.4l31.5 11.2 8.9 16.3-28.1-10.1z"/>
<path fill="#510000" d="M1011.3 387.6l3.3 18.2-11.9 34.9-3.4-19.8z"/>
<path fill="#af0000" d="M1144.3 366.2l-1 4.4-20.5-19 1.4-6.5z"/>
<path fill="#c10000" d="M1160.8 396.7l1.9 2.6-15.2-20-3.1-4.2z"/>
<path fill="#660000" d="M1230.4 372.1l-.3-4.4 20.3-20.4 .5 6.5z"/>
<path fill="#630000" d="M1010.7 538.3l21.2 18.6 6.4 35-20.3-18.1z"/>
<path fill="#ca0000" d="M1255.6 648.5l33.1-9.9-11.3 17-29.4 8.9z"/>
<path fill="#660000" d="M1210.3 400.2l2.3-2.6 16-21.1-3.7 4.2z"/>
<path fill="#7c0000" d="M1038.3 591.9l27.9 15.5 9.2 27-25.8-14.5z"/>
<path fill="#e70000" d="M1358.2 505.7l15.5-19.6-1.2 38.9-15.4 19.8z"/>
<path fill="#7c0000" d="M1077.6 325.5l-2.8 11.2-24.1 7.2 3.5-13.6z"/>
<path fill="#9e0000" d="M1124.2 345.1l-1.4 6.5-23.4-12 2.1-8.7z"/>
<path fill="#aa0000" d="M1323 348.6l-1.5-13.8 21.3 15.8 1.9 16.1z"/>
<path fill="#bf0000" d="M1162.7 399.3l3.1 2.4-13.3-18.6-5-3.8z"/>
<path fill="#8d0000" d="M1101.5 330.9l-2.1 8.7-24.6-2.9 2.8-11.2z"/>
<path fill="#b10000" d="M1143.3 370.6l1.1 4.5-20.1-17-1.5-6.5z"/>
<path fill="#6e0000" d="M1206.8 402.4l3.5-2.2 14.6-19.5-5.6 3.6z"/>
<path fill="#d10000" d="M1356.3 411.9l6.1-18.1 12.1 33.8-6.3 19.7z"/>
<path fill="#730000" d="M1250.9 353.8l-.5-6.5 23.1-13.5 .7 8.8z"/>
<path fill="#9f0000" d="M1106.9 645.6l35.7 7.3 4.9 15.6-31.7-6.6z"/>
<path fill="#d50000" d="M1297.1 611.9l30-14.4-10.6 27.6-27.8 13.5z"/>
<path fill="#ba0000" d="M1165.8 401.7l4 2-10.7-17.3-6.6-3.3z"/>
<path fill="#690000" d="M1228.6 376.5l1.8-4.4 20.5-18.3-2.5 6.5z"/>
<path fill="#e10000" d="M1333.2 562.7l23.9-17.9-7 35.4-23 17.3z"/>
<path fill="#950000" d="M1298.8 340.6l-1.1-11.3 23.8 5.5 1.5 13.8z"/>
<path fill="#770000" d="M1202.5 404.3l4.3-1.9 12.5-18.1-7 3z"/>
<path fill="#5b0000" d="M1028.9 361.3l3.1 16.1-17.4 28.4-3.3-18.2z"/>
<path fill="#4d0000" d="M1002.7 440.7l12.2 19.1-5.3 39.4-12.5-20z"/>
<path fill="#bf0000" d="M1218.9 654.4l36.7-5.9-7.6 16-32.6 5.3z"/>
<path fill="#830000" d="M1274.2 342.6l-.7-8.8 24.2-4.5 1.1 11.3z"/>
<path fill="#b40000" d="M1169.8 403.7l4.9 1.6-7.7-16.4-7.9-2.5z"/>
<path fill="#820000" d="M1197.4 405.7l5.1-1.4 9.8-17-8.3 2.2z"/>
<path fill="#b10000" d="M1144.4 375.1l3.1 4.2-18.7-15-4.5-6.2z"/>
<path fill="#a90000" d="M1142.6 652.9l38 3 .7 15.2-33.8-2.6z"/>
<path fill="#ac0000" d="M1174.7 405.3l5.5 1-4.3-15.8-8.9-1.6z"/>
<path fill="#a00000" d="M1122.8 351.6l1.5 6.5-22.9-9.6-2-8.9z"/>
<path fill="#8d0000" d="M1191.8 406.5l5.6-.8 6.6-16.2-9.2 1.3z"/>
<path fill="#b40000" d="M1180.6 655.9l38.3-1.5-3.5 15.4-34.1 1.3z"/>
<path fill="#a20000" d="M1180.2 406.3l5.8 .4-.6-15.6-9.5-.6z"/>
<path fill="#980000" d="M1186 406.7l5.8-.2 3-15.7-9.4 .3z"/>
<path fill="#6e0000" d="M1224.9 380.7l3.7-4.2 19.8-16.2-5.5 6z"/>
<path fill="#6a0000" d="M1050.7 343.9l2.8 13.8-21.5 19.7-3.1-16.1z"/>
<path fill="#bc0000" d="M1339.2 382.8l5.5-16.1 17.7 27.1-6.1 18.1z"/>
<path fill="#750000" d="M1248.4 360.3l2.5-6.5 23.3-11.2-3.4 8.8z"/>
<path fill="#850000" d="M1066.2 607.4l34.1 12 6.6 26.2-31.5-11.2z"/>
<path fill="#db0000" d="M1353 466l15.2-18.7 5.5 38.8-15.5 19.6z"/>
<path fill="#550000" d="M1009.6 499.2l21.4 18.4 .9 39.3-21.2-18.6z"/>
<path fill="#8e0000" d="M1099.4 339.6l2 8.9-24.2-.5-2.4-11.3z"/>
<path fill="#af0000" d="M1147.5 379.3l5 3.8-16.4-13.2-7.3-5.6z"/>
<path fill="#7c0000" d="M1074.8 336.7l2.4 11.3-23.7 9.7-2.8-13.8z"/>
<path fill="#6a0000" d="M1031.9 556.9l29.1 15.9 5.2 34.6-27.9-15.5z"/>
<path fill="#730000" d="M1219.3 384.3l5.6-3.6 18-14.4-8.1 5.4z"/>
<path fill="#c80000" d="M1261.3 622.6l35.8-10.7-8.4 26.7-33.1 9.9z"/>
<path fill="#500000" d="M1014.6 405.8l11.6 17.6-11.3 36.4-12.2-19.1z"/>
<path fill="#830000" d="M1270.8 351.4l3.4-8.8 24.6-2-4.2 11.2z"/>
<path fill="#a70000" d="M1318 362.3l5-13.7 21.7 18.1-5.5 16.1z"/>
<path fill="#a00000" d="M1124.3 358.1l4.5 6.2-21.3-7.4-6.1-8.4z"/>
<path fill="#ac0000" d="M1152.5 383.1l6.6 3.3-13.3-11.7-9.7-4.8z"/>
<path fill="#940000" d="M1294.6 351.8l4.2-11.2 24.2 8-5 13.7z"/>
<path fill="#da0000" d="M1334.1 523.3l24.1-17.6-1.1 39.1-23.9 17.9z"/>
<path fill="#7a0000" d="M1212.3 387.3l7-3 15.5-12.6-10.4 4.4z"/>
<path fill="#770000" d="M1242.9 366.3l5.5-6 22.4-8.9-7.3 8.2z"/>
<path fill="#d30000" d="M1301.8 577.5l31.4-14.8-6.1 34.8-30 14.4z"/>
<path fill="#900000" d="M1100.3 619.4l38.6 7.9 3.7 25.6-35.7-7.3z"/>
<path fill="#a70000" d="M1159.1 386.4l7.9 2.5-9.5-10.5-11.7-3.7z"/>
<path fill="#c90000" d="M1342.1 429.1l14.2-17.2 11.9 35.4-15.2 18.7z"/>
<path fill="#820000" d="M1204 389.5l8.3-2.2 12.1-11.2-12.3 3.2z"/>
<path fill="#5b0000" d="M1032 377.4l10.5 15.6-16.3 30.4-11.6-17.6z"/>
<path fill="#b90000" d="M1221.6 628.9l39.7-6.3-5.7 25.9-36.7 5.9z"/>
<path fill="#8e0000" d="M1101.4 348.5l6.1 8.4-22.6 2-7.7-10.9z"/>
<path fill="#a10000" d="M1167 388.9l8.9 1.6-5.2-9.8-13.2-2.3z"/>
<path fill="#9f0000" d="M1128.8 364.3l7.3 5.6-18.7-5.3-9.9-7.7z"/>
<path fill="#500000" d="M1014.9 459.8l20.7 17.5-4.6 40.3-21.4-18.4z"/>
<path fill="#8a0000" d="M1194.8 390.8l9.2-1.3 8.1-10.2-13.5 1.9z"/>
<path fill="#9a0000" d="M1175.9 390.5l9.5 .6-.8-9.4-13.9-1z"/>
<path fill="#920000" d="M1185.4 391.1l9.4-.3 3.8-9.6-14 .5z"/>
<path fill="#9c0000" d="M1138.9 627.3l41.2 3.2 .5 25.4-38-3z"/>
<path fill="#7b0000" d="M1234.8 371.7l8.1-5.4 20.6-6.7-11.1 7.3z"/>
<path fill="#aa0000" d="M1180.1 630.5l41.5-1.6-2.7 25.5-38.3 1.5z"/>
<path fill="#6a0000" d="M1053.5 357.7l9.2 13.3-20.2 22-10.5-15.6z"/>
<path fill="#840000" d="M1263.5 359.6l7.3-8.2 23.8 .4-9.3 10.5z"/>
<path fill="#7c0000" d="M1077.2 348l7.7 10.9-22.2 12.1-9.2-13.3z"/>
<path fill="#740000" d="M1061 572.8l35.5 12.4 3.8 34.2-34.1-12z"/>
<path fill="#b60000" d="M1326.3 398l12.9-15.2 17.1 29.1-14.2 17.2z"/>
<path fill="#5d0000" d="M1031 517.6l29.2 15.8 .8 39.4-29.1-15.9z"/>
<path fill="#ce0000" d="M1329.7 482.8l23.3-16.8 5.2 39.7-24.1 17.6z"/>
<path fill="#9d0000" d="M1136.1 369.9l9.7 4.8-15.2-3.6-13.2-6.5z"/>
<path fill="#920000" d="M1285.3 362.3l9.3-10.5 23.4 10.5-11.2 13z"/>
<path fill="#c20000" d="M1264.5 588.4l37.3-10.9-4.7 34.4-35.8 10.7z"/>
<path fill="#a30000" d="M1306.8 375.3l11.2-13 21.2 20.5-12.9 15.2z"/>
<path fill="#7f0000" d="M1224.4 376.1l10.4-4.4 17.6-4.8-14.2 6z"/>
<path fill="#8e0000" d="M1107.5 356.9l9.9 7.7-19.9 4.1-12.6-9.8z"/>
<path fill="#530000" d="M1026.2 423.4l19.4 16.1-10 37.8-20.7-17.5z"/>
<path fill="#cb0000" d="M1302.6 537.9l31.5-14.6-.9 39.4-31.4 14.8z"/>
<path fill="#9a0000" d="M1145.8 374.7l11.7 3.7-10.9-2.3-16-5z"/>
<path fill="#840000" d="M1252.4 366.9l11.1-7.3 21.8 2.7-14.1 9.4z"/>
<path fill="#840000" d="M1212.1 379.3l12.3-3.2 13.8-3.2-16.7 4.5z"/>
<path fill="#810000" d="M1096.5 585.2l40.3 8 2.1 34.1-38.6-7.9z"/>
<path fill="#7c0000" d="M1084.9 358.9l12.6 9.8-19.6 14.4-15.2-12.1z"/>
<path fill="#bf0000" d="M1320.2 444.4l21.9-15.3 10.9 36.9-23.3 16.8z"/>
<path fill="#5d0000" d="M1042.5 393l17.6 14.2-14.5 32.3-19.4-16.1z"/>
<path fill="#960000" d="M1157.5 378.4l13.2 2.3-6.1-1.4-18-3.2z"/>
<path fill="#b10000" d="M1223.1 594.9l41.4-6.5-3.2 34.2-39.7 6.3z"/>
<path fill="#880000" d="M1198.6 381.2l13.5-1.9 9.4-1.9-18.5 2.6z"/>
<path fill="#570000" d="M1035.6 477.3l28.4 15-3.8 41.1-29.2-15.8z"/>
<path fill="#6b0000" d="M1062.7 371l15.2 12.1-17.8 24.1-17.6-14.2z"/>
<path fill="#8d0000" d="M1117.4 364.6l13.2 6.5-16.1 6-17-8.4z"/>
<path fill="#920000" d="M1170.7 380.7l13.9 1-.9-1.1-19.1-1.3z"/>
<path fill="#8d0000" d="M1184.6 381.7l14-.5 4.4-1.2-19.3 .6z"/>
<path fill="#670000" d="M1060.2 533.4l35.8 12.2 .5 39.6-35.5-12.4z"/>
<path fill="#900000" d="M1271.2 371.7l14.1-9.4 21.5 13-17.1 11.5z"/>
<path fill="#900000" d="M1136.8 593.2l43 3.4 .3 33.9-41.2-3.2z"/>
<path fill="#a00000" d="M1179.8 596.6l43.3-1.7-1.5 34-41.5 1.6z"/>
<path fill="#860000" d="M1238.2 372.9l14.2-6 18.8 4.8-18.2 7.8z"/>
<path fill="#ae0000" d="M1306.5 411.6l19.8-13.6 15.8 31.1-21.9 15.3z"/>
<path fill="#9e0000" d="M1289.7 386.8l17.1-11.5 19.5 22.7-19.8 13.6z"/>
<path fill="#c00000" d="M1299.1 496.7l30.6-13.9 4.4 40.5-31.5 14.6z"/>
<path fill="#ba0000" d="M1265 548.8l37.6-10.9-.8 39.6-37.3 10.9z"/>
<path fill="#8c0000" d="M1130.6 371.1l16 5-11.6 7.5-20.5-6.5z"/>
<path fill="#590000" d="M1045.6 439.5l26.6 13.7-8.2 39.1-28.4-15z"/>
<path fill="#7d0000" d="M1097.5 368.7l17 8.4-16 16.3-20.6-10.3z"/>
<path fill="#870000" d="M1221.5 377.4l16.7-4.5 14.8 6.6-21.6 5.8z"/>
<path fill="#750000" d="M1096 545.6l40.5 8 .3 39.6-40.3-8z"/>
<path fill="#8e0000" d="M1253 379.5l18.2-7.8 18.5 15.1-22.2 9.6z"/>
<path fill="#8b0000" d="M1146.6 376.1l18 3.2-6.4 8.5-23.2-4.2z"/>
<path fill="#620000" d="M1060.1 407.2l23.9 12.1-11.8 33.9-26.6-13.7z"/>
<path fill="#6e0000" d="M1077.9 383.1l20.6 10.3-14.5 25.9-23.9-12.1z"/>
<path fill="#b30000" d="M1291.6 457.2l28.6-12.8 9.5 38.4-30.6 13.9z"/>
<path fill="#610000" d="M1064 492.3l34.7 11.6-2.7 41.7-35.8-12.2z"/>
<path fill="#a80000" d="M1223.3 555.2l41.7-6.4-.5 39.6-41.4 6.5z"/>
<path fill="#880000" d="M1203 380l18.5-2.6 9.9 7.9-23.8 3.3z"/>
<path fill="#8a0000" d="M1164.6 379.3l19.1 1.3-.9 8.9-24.6-1.7z"/>
<path fill="#890000" d="M1183.7 380.6l19.3-.6 4.6 8.6-24.8 .9z"/>
<path fill="#990000" d="M1267.5 396.4l22.2-9.6 16.8 24.8-25.7 11.3z"/>
<path fill="#840000" d="M1136.5 553.6l43.2 3.2 .1 39.8-43-3.4z"/>
<path fill="#b00000" d="M1262.6 507l36.5-10.3 3.5 41.2-37.6 10.9z"/>
<path fill="#a50000" d="M1280.8 422.9l25.7-11.3 13.7 32.8-28.6 12.8z"/>
<path fill="#7f0000" d="M1114.5 377.1l20.5 6.5-11.4 17.7-25.1-7.9z"/>
<path fill="#960000" d="M1179.7 556.8l43.6-1.6-.2 39.7-43.3 1.7z"/>
<path fill="#8b0000" d="M1231.4 385.3l21.6-5.8 14.5 16.9-26.2 7z"/>
<path fill="#620000" d="M1072.2 453.2l32.4 10.7-5.9 40-34.7-11.6z"/>
<path fill="#6e0000" d="M1098.7 503.9l39.3 7.6-1.5 42.1-40.5-8z"/>
<path fill="#720000" d="M1098.5 393.4l25.1 7.9-10.5 27.4-29.1-9.4z"/>
<path fill="#810000" d="M1135 383.6l23.2 4.2-6.4 18.7-28.2-5.2z"/>
<path fill="#680000" d="M1084 419.3l29.1 9.4-8.5 35.2-32.4-10.7z"/>
<path fill="#a50000" d="M1257.6 466.7l34-9.5 7.5 39.5-36.5 10.3z"/>
<path fill="#890000" d="M1207.6 388.6l23.8-3.3 9.9 18.1-29.1 4.2z"/>
<path fill="#9f0000" d="M1222.2 513.1l40.4-6.1 2.4 41.8-41.7 6.4z"/>
<path fill="#920000" d="M1241.3 403.4l26.2-7 13.3 26.5-30.6 8.3z"/>
<path fill="#830000" d="M1158.2 387.8l24.6 1.7-.9 19.2-30.1-2.2z"/>
<path fill="#860000" d="M1182.8 389.5l24.8-.9 4.6 19-30.3 1.1z"/>
<path fill="#9b0000" d="M1250.2 431.2l30.6-8.3 10.8 34.3-34 9.5z"/>
<path fill="#7d0000" d="M1138 511.5l41.9 3.1-.2 42.2-43.2-3.2z"/>
<path fill="#8d0000" d="M1179.9 514.6l42.3-1.5 1.1 42.1-43.6 1.6z"/>
<path fill="#6d0000" d="M1104.6 463.9l36.7 6.9-3.3 40.7-39.3-7.6z"/>
<path fill="#770000" d="M1123.6 401.3l28.2 5.2-5.8 28.3-32.9-6.1z"/>
<path fill="#8b0000" d="M1212.2 407.6l29.1-4.2 8.9 27.8-33.8 4.9z"/>
<path fill="#960000" d="M1219.9 472.2l37.7-5.5 5 40.3-40.4 6.1z"/>
<path fill="#700000" d="M1113.1 428.7l32.9 6.1-4.7 36-36.7-6.9z"/>
<path fill="#7e0000" d="M1151.8 406.5l30.1 2.2-.8 28.7-35.1-2.6z"/>
<path fill="#900000" d="M1216.4 436.1l33.8-4.9 7.4 35.5-37.7 5.5z"/>
<path fill="#840000" d="M1181.9 408.7l30.3-1.1 4.2 28.5-35.3 1.3z"/>
<path fill="#790000" d="M1141.3 470.8l39.1 2.9-.5 40.9-41.9-3.1z"/>
<path fill="#870000" d="M1180.4 473.7l39.5-1.5 2.3 40.9-42.3 1.5z"/>
<path fill="#7a0000" d="M1146 434.8l35.1 2.6-.7 36.3-39.1-2.9z"/>
<path fill="#850000" d="M1181.1 437.4l35.3-1.3 3.5 36.1-39.5 1.5z"/>
</g>
<text transform="translate(743.2 40.4) scale(1 1.040)" font-size="31.44" text-anchor="middle">Comparison of dBi (Isotropic) vs dBd (Dipole) Radiation Patterns</text>
<text transform="translate(357.2 131.8) scale(1 1.040)" font-size="36.25" text-anchor="middle">dBi (Isotropic)</text>
<text transform="translate(1177.4 131.8) scale(1 1.040)" font-size="36.25" text-anchor="middle">dBd (Dipole)</text>
<text transform="translate(218.4 796.9) rotate(18.15) scale(1 1.040)" y="9.6" font-size="27.00" text-anchor="middle" style="fill:#262626">X-axis</text>
<text transform="translate(616.2 737.7) rotate(-45.97) scale(1 1.040)" y="9.6" font-size="27.00" text-anchor="middle" style="fill:#262626">Y-axis</text>
<text transform="translate(750.9 428.0) rotate(-87.30) scale(1 1.040)" y="9.6" font-size="27.00" text-anchor="middle" style="fill:#262626">Z-axis</text>
<text transform="translate(1038.6 796.9) rotate(18.15) scale(1 1.040)" y="9.6" font-size="27.00" text-anchor="middle" style="fill:#262626">X-axis</text>
<text transform="translate(1436.4 737.7) rotate(-45.97) scale(1 1.040)" y="9.6" font-size="27.00" text-anchor="middle" style="fill:#262626">Y-axis</text>
<text transform="translate(1571.1 428.0) rotate(-87.30) scale(1 1.040)" y="9.6" font-size="27.00" text-anchor="middle" style="fill:#262626">Z-axis</text>
</svg>
</body></html>
